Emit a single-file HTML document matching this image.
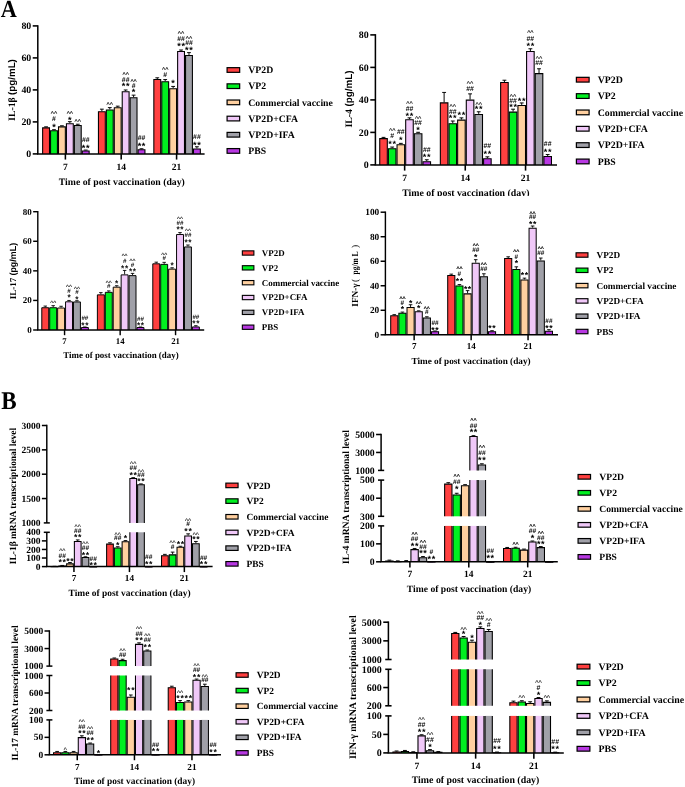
<!DOCTYPE html><html><head><meta charset="utf-8"><title>Figure</title>
<style>html,body{margin:0;padding:0;background:#fff}svg{display:block;text-rendering:geometricPrecision}text{fill:#000}</style></head><body>
<svg width="685" height="787" viewBox="0 0 685 787">
<rect width="685" height="787" fill="#fff"/>
<g>
<path d="M46.06 127.34V126.83M44.16 126.83H47.97" stroke="#000" stroke-width="0.97" fill="none"/>
<rect x="42.64" y="127.88" width="6.86" height="26.02" fill="#FF4040"/>
<path d="M42.64 153.9V127.88H49.49V153.9" stroke="#000" stroke-width="1.07" fill="none"/>
<path d="M54 130.22V129.71M52.09 129.71H55.9" stroke="#000" stroke-width="0.97" fill="none"/>
<rect x="50.57" y="130.76" width="6.86" height="23.14" fill="#00F020"/>
<path d="M50.57 153.9V130.76H57.42V153.9" stroke="#000" stroke-width="1.07" fill="none"/>
<text x="54" y="129.53" font-family="'Liberation Sans', sans-serif" font-size="9.07" font-weight="bold" text-anchor="middle" fill="#000">*</text>
<text x="54" y="121.32" font-family="'Liberation Sans', sans-serif" font-size="6.83" font-weight="bold" text-anchor="middle" fill="#000">#</text>
<text x="54" y="116.11" font-family="'Liberation Sans', sans-serif" font-size="6.83" text-anchor="middle" fill="#000" stroke="#000" stroke-width="0.1">^^</text>
<path d="M61.92 126.3V125.79M60.02 125.79H63.83" stroke="#000" stroke-width="0.97" fill="none"/>
<rect x="58.5" y="126.84" width="6.86" height="27.06" fill="#FFD0A0"/>
<path d="M58.5 153.9V126.84H65.35V153.9" stroke="#000" stroke-width="1.07" fill="none"/>
<path d="M69.86 123.18V121.67M67.95 121.67H71.76" stroke="#000" stroke-width="0.97" fill="none"/>
<rect x="66.43" y="123.72" width="6.86" height="30.18" fill="#F0C8F8"/>
<path d="M66.43 153.9V123.72H73.28V153.9" stroke="#000" stroke-width="1.07" fill="none"/>
<text x="69.86" y="122.53" font-family="'Liberation Sans', sans-serif" font-size="9.07" font-weight="bold" text-anchor="middle" fill="#000">*</text>
<text x="69.86" y="116.31" font-family="'Liberation Sans', sans-serif" font-size="6.83" text-anchor="middle" fill="#000" stroke="#000" stroke-width="0.1">^^</text>
<path d="M77.78 124.94V124.23M75.88 124.23H79.69" stroke="#000" stroke-width="0.97" fill="none"/>
<rect x="74.36" y="125.48" width="6.86" height="28.42" fill="#A0A0A8"/>
<path d="M74.36 153.9V125.48H81.21V153.9" stroke="#000" stroke-width="1.07" fill="none"/>
<text x="77.78" y="123.81" font-family="'Liberation Sans', sans-serif" font-size="6.83" text-anchor="middle" fill="#000" stroke="#000" stroke-width="0.1">^^</text>
<path d="M85.72 150.38V150.07M83.81 150.07H87.62" stroke="#000" stroke-width="0.97" fill="none"/>
<rect x="82.29" y="150.92" width="6.86" height="2.98" fill="#B838E2"/>
<path d="M82.29 153.9V150.92H89.14V153.9" stroke="#000" stroke-width="1.07" fill="none"/>
<text x="85.72" y="151.13" font-family="'Liberation Sans', sans-serif" font-size="9.07" font-weight="bold" text-anchor="middle" fill="#000" letter-spacing="0.68" dx="0.34">**</text>
<text x="85.72" y="142.02" font-family="'Liberation Sans', sans-serif" font-size="6.83" font-weight="bold" text-anchor="middle" fill="#000">##</text>
<path d="M101.87 111.18V109.17M99.96 109.17H103.77" stroke="#000" stroke-width="0.97" fill="none"/>
<rect x="98.44" y="111.72" width="6.86" height="42.18" fill="#FF4040"/>
<path d="M98.44 153.9V111.72H105.29V153.9" stroke="#000" stroke-width="1.07" fill="none"/>
<path d="M109.8 109.42V107.61M107.89 107.61H111.7" stroke="#000" stroke-width="0.97" fill="none"/>
<rect x="106.37" y="109.96" width="6.86" height="43.94" fill="#00F020"/>
<path d="M106.37 153.9V109.96H113.22V153.9" stroke="#000" stroke-width="1.07" fill="none"/>
<text x="109.8" y="106.51" font-family="'Liberation Sans', sans-serif" font-size="6.83" text-anchor="middle" fill="#000" stroke="#000" stroke-width="0.1">^^</text>
<path d="M117.73 107.18V106.17M115.82 106.17H119.63" stroke="#000" stroke-width="0.97" fill="none"/>
<rect x="114.3" y="107.72" width="6.86" height="46.18" fill="#FFD0A0"/>
<path d="M114.3 153.9V107.72H121.15V153.9" stroke="#000" stroke-width="1.07" fill="none"/>
<path d="M125.66 91.18V89.97M123.75 89.97H127.56" stroke="#000" stroke-width="0.97" fill="none"/>
<rect x="122.23" y="91.72" width="6.86" height="62.18" fill="#F0C8F8"/>
<path d="M122.23 153.9V91.72H129.08V153.9" stroke="#000" stroke-width="1.07" fill="none"/>
<text x="125.66" y="89.43" font-family="'Liberation Sans', sans-serif" font-size="9.07" font-weight="bold" text-anchor="middle" fill="#000" letter-spacing="0.68" dx="0.34">**</text>
<text x="125.66" y="82.02" font-family="'Liberation Sans', sans-serif" font-size="6.83" font-weight="bold" text-anchor="middle" fill="#000">##</text>
<text x="125.66" y="77.41" font-family="'Liberation Sans', sans-serif" font-size="6.83" text-anchor="middle" fill="#000" stroke="#000" stroke-width="0.1">^^</text>
<path d="M133.59 97.26V95.15M131.68 95.15H135.49" stroke="#000" stroke-width="0.97" fill="none"/>
<rect x="130.16" y="97.8" width="6.86" height="56.1" fill="#A0A0A8"/>
<path d="M130.16 153.9V97.8H137.01V153.9" stroke="#000" stroke-width="1.07" fill="none"/>
<text x="133.59" y="95.13" font-family="'Liberation Sans', sans-serif" font-size="9.07" font-weight="bold" text-anchor="middle" fill="#000">*</text>
<text x="133.59" y="87.72" font-family="'Liberation Sans', sans-serif" font-size="6.83" font-weight="bold" text-anchor="middle" fill="#000">#</text>
<text x="133.59" y="83.91" font-family="'Liberation Sans', sans-serif" font-size="6.83" text-anchor="middle" fill="#000" stroke="#000" stroke-width="0.1">^^</text>
<path d="M141.52 149.26V148.75M139.61 148.75H143.42" stroke="#000" stroke-width="0.97" fill="none"/>
<rect x="138.09" y="149.8" width="6.86" height="4.1" fill="#B838E2"/>
<path d="M138.09 153.9V149.8H144.94V153.9" stroke="#000" stroke-width="1.07" fill="none"/>
<text x="141.52" y="148.83" font-family="'Liberation Sans', sans-serif" font-size="9.07" font-weight="bold" text-anchor="middle" fill="#000" letter-spacing="0.68" dx="0.34">**</text>
<text x="141.52" y="140.02" font-family="'Liberation Sans', sans-serif" font-size="6.83" font-weight="bold" text-anchor="middle" fill="#000">##</text>
<path d="M157.27 79.02V77.81M155.36 77.81H159.17" stroke="#000" stroke-width="0.97" fill="none"/>
<rect x="153.84" y="79.56" width="6.86" height="74.34" fill="#FF4040"/>
<path d="M153.84 153.9V79.56H160.69V153.9" stroke="#000" stroke-width="1.07" fill="none"/>
<path d="M165.2 81.26V79.55M163.29 79.55H167.1" stroke="#000" stroke-width="0.97" fill="none"/>
<rect x="161.77" y="81.8" width="6.86" height="72.1" fill="#00F020"/>
<path d="M161.77 153.9V81.8H168.62V153.9" stroke="#000" stroke-width="1.07" fill="none"/>
<text x="165.2" y="77.02" font-family="'Liberation Sans', sans-serif" font-size="6.83" font-weight="bold" text-anchor="middle" fill="#000">#</text>
<text x="165.2" y="72.11" font-family="'Liberation Sans', sans-serif" font-size="6.83" text-anchor="middle" fill="#000" stroke="#000" stroke-width="0.1">^^</text>
<path d="M173.13 88.14V86.43M171.22 86.43H175.03" stroke="#000" stroke-width="0.97" fill="none"/>
<rect x="169.7" y="88.68" width="6.86" height="65.22" fill="#FFD0A0"/>
<path d="M169.7 153.9V88.68H176.55V153.9" stroke="#000" stroke-width="1.07" fill="none"/>
<text x="173.13" y="86.13" font-family="'Liberation Sans', sans-serif" font-size="9.07" font-weight="bold" text-anchor="middle" fill="#000">*</text>
<path d="M181.06 51.02V50.01M179.15 50.01H182.96" stroke="#000" stroke-width="0.97" fill="none"/>
<rect x="177.63" y="51.56" width="6.86" height="102.34" fill="#F0C8F8"/>
<path d="M177.63 153.9V51.56H184.48V153.9" stroke="#000" stroke-width="1.07" fill="none"/>
<text x="181.06" y="48.73" font-family="'Liberation Sans', sans-serif" font-size="9.07" font-weight="bold" text-anchor="middle" fill="#000" letter-spacing="0.68" dx="0.34">**</text>
<text x="181.06" y="40.72" font-family="'Liberation Sans', sans-serif" font-size="6.83" font-weight="bold" text-anchor="middle" fill="#000">##</text>
<text x="181.06" y="35.61" font-family="'Liberation Sans', sans-serif" font-size="6.83" text-anchor="middle" fill="#000" stroke="#000" stroke-width="0.1">^^</text>
<path d="M188.99 55.02V52.61M187.08 52.61H190.89" stroke="#000" stroke-width="0.97" fill="none"/>
<rect x="185.56" y="55.56" width="6.86" height="98.34" fill="#A0A0A8"/>
<path d="M185.56 153.9V55.56H192.41V153.9" stroke="#000" stroke-width="1.07" fill="none"/>
<text x="188.99" y="52.73" font-family="'Liberation Sans', sans-serif" font-size="9.07" font-weight="bold" text-anchor="middle" fill="#000" letter-spacing="0.68" dx="0.34">**</text>
<text x="188.99" y="44.52" font-family="'Liberation Sans', sans-serif" font-size="6.83" font-weight="bold" text-anchor="middle" fill="#000">##</text>
<text x="188.99" y="40.71" font-family="'Liberation Sans', sans-serif" font-size="6.83" text-anchor="middle" fill="#000" stroke="#000" stroke-width="0.1">^^</text>
<path d="M196.92 148.46V146.75M195.01 146.75H198.82" stroke="#000" stroke-width="0.97" fill="none"/>
<rect x="193.49" y="149" width="6.86" height="4.9" fill="#B838E2"/>
<path d="M193.49 153.9V149H200.34V153.9" stroke="#000" stroke-width="1.07" fill="none"/>
<text x="196.92" y="147.53" font-family="'Liberation Sans', sans-serif" font-size="9.07" font-weight="bold" text-anchor="middle" fill="#000" letter-spacing="0.68" dx="0.34">**</text>
<text x="196.92" y="139.12" font-family="'Liberation Sans', sans-serif" font-size="6.83" font-weight="bold" text-anchor="middle" fill="#000">##</text>
<path d="M37.8 25.14V153.9" stroke="#000" stroke-width="1.51"/>
<path d="M32.73 153.9H37.8" stroke="#000" stroke-width="1.56"/>
<text x="31.27" y="157.15" font-family="'Liberation Serif', serif" font-weight="bold" font-size="9.85" text-anchor="end">0</text>
<path d="M32.73 121.9H37.8" stroke="#000" stroke-width="1.56"/>
<text x="31.27" y="125.15" font-family="'Liberation Serif', serif" font-weight="bold" font-size="9.85" text-anchor="end">20</text>
<path d="M32.73 89.9H37.8" stroke="#000" stroke-width="1.56"/>
<text x="31.27" y="93.15" font-family="'Liberation Serif', serif" font-weight="bold" font-size="9.85" text-anchor="end">40</text>
<path d="M32.73 57.9H37.8" stroke="#000" stroke-width="1.56"/>
<text x="31.27" y="61.15" font-family="'Liberation Serif', serif" font-weight="bold" font-size="9.85" text-anchor="end">60</text>
<path d="M32.73 25.9H37.8" stroke="#000" stroke-width="1.56"/>
<text x="31.27" y="29.15" font-family="'Liberation Serif', serif" font-weight="bold" font-size="9.85" text-anchor="end">80</text>
<path d="M37.04 153.9H204.6" stroke="#000" stroke-width="1.51"/>
<path d="M65.39 153.9V159.56" stroke="#000" stroke-width="1.56"/>
<text x="65.39" y="169.5" font-family="'Liberation Serif', serif" font-weight="bold" font-size="9.55" text-anchor="middle">7</text>
<path d="M121.19 153.9V159.56" stroke="#000" stroke-width="1.56"/>
<text x="121.19" y="169.5" font-family="'Liberation Serif', serif" font-weight="bold" font-size="9.55" text-anchor="middle">14</text>
<path d="M176.59 153.9V159.56" stroke="#000" stroke-width="1.56"/>
<text x="176.59" y="169.5" font-family="'Liberation Serif', serif" font-weight="bold" font-size="9.55" text-anchor="middle">21</text>
<text x="121.8" y="185.2" font-family="'Liberation Serif', serif" font-weight="bold" font-size="9.75" text-anchor="middle">Time of post vaccination (day)</text>
<text transform="translate(14.6 90) rotate(-90)" font-family="'Liberation Serif', serif" font-weight="bold" font-size="9.75" text-anchor="middle">IL-1β <tspan font-family="Liberation Sans, sans-serif">(pg/mL)</tspan></text>
<rect x="227.09" y="67.66" width="12.58" height="4.68" fill="#FF4040" stroke="#000" stroke-width="1.22"/>
<text x="248.3" y="73.22" font-family="'Liberation Serif', serif" font-weight="bold" font-size="9.75">VP2D</text>
<rect x="227.09" y="83.84" width="12.58" height="4.68" fill="#00F020" stroke="#000" stroke-width="1.22"/>
<text x="248.3" y="89.4" font-family="'Liberation Serif', serif" font-weight="bold" font-size="9.75">VP2</text>
<rect x="227.09" y="100.03" width="12.58" height="4.68" fill="#FFD0A0" stroke="#000" stroke-width="1.22"/>
<text x="248.3" y="105.59" font-family="'Liberation Serif', serif" font-weight="bold" font-size="9.75">Commercial vaccine</text>
<rect x="227.09" y="116.22" width="12.58" height="4.68" fill="#F0C8F8" stroke="#000" stroke-width="1.22"/>
<text x="248.3" y="121.77" font-family="'Liberation Serif', serif" font-weight="bold" font-size="9.75">VP2D+CFA</text>
<rect x="227.09" y="132.4" width="12.58" height="4.68" fill="#A0A0A8" stroke="#000" stroke-width="1.22"/>
<text x="248.3" y="137.96" font-family="'Liberation Serif', serif" font-weight="bold" font-size="9.75">VP2D+IFA</text>
<rect x="227.09" y="148.59" width="12.58" height="4.68" fill="#B838E2" stroke="#000" stroke-width="1.22"/>
<text x="248.3" y="154.14" font-family="'Liberation Serif', serif" font-weight="bold" font-size="9.75">PBS</text>
</g>
<clipPath id="c2"><rect x="0" y="0" width="685" height="195.9"/></clipPath>
<g>
<path d="M383.52 138.09V137.38M381.6 137.38H385.45" stroke="#000" stroke-width="0.98" fill="none"/>
<rect x="379.74" y="138.63" width="7.57" height="26.27" fill="#FF4040"/>
<path d="M379.74 164.9V138.63H387.31V164.9" stroke="#000" stroke-width="1.08" fill="none"/>
<path d="M392.17 148.16V147.06M390.25 147.06H394.1" stroke="#000" stroke-width="0.98" fill="none"/>
<rect x="388.39" y="148.7" width="7.57" height="16.2" fill="#00F020"/>
<path d="M388.39 164.9V148.7H395.96V164.9" stroke="#000" stroke-width="1.08" fill="none"/>
<text x="392.17" y="146.68" font-family="'Liberation Sans', sans-serif" font-size="9.16" font-weight="bold" text-anchor="middle" fill="#000" letter-spacing="0.69" dx="0.34">**</text>
<text x="392.17" y="137.84" font-family="'Liberation Sans', sans-serif" font-size="6.89" font-weight="bold" text-anchor="middle" fill="#000">#</text>
<text x="392.17" y="133.35" font-family="'Liberation Sans', sans-serif" font-size="6.89" text-anchor="middle" fill="#000" stroke="#000" stroke-width="0.1">^^</text>
<path d="M400.82 144.26V143.36M398.9 143.36H402.75" stroke="#000" stroke-width="0.98" fill="none"/>
<rect x="397.04" y="144.8" width="7.57" height="20.1" fill="#FFD0A0"/>
<path d="M397.04 164.9V144.8H404.61V164.9" stroke="#000" stroke-width="1.08" fill="none"/>
<text x="400.82" y="143.08" font-family="'Liberation Sans', sans-serif" font-size="9.16" font-weight="bold" text-anchor="middle" fill="#000">*</text>
<text x="400.82" y="134.34" font-family="'Liberation Sans', sans-serif" font-size="6.89" font-weight="bold" text-anchor="middle" fill="#000">##</text>
<path d="M409.47 119.24V117.83M407.55 117.83H411.4" stroke="#000" stroke-width="0.98" fill="none"/>
<rect x="405.69" y="119.78" width="7.57" height="45.12" fill="#F0C8F8"/>
<path d="M405.69 164.9V119.78H413.26V164.9" stroke="#000" stroke-width="1.08" fill="none"/>
<text x="409.47" y="118.88" font-family="'Liberation Sans', sans-serif" font-size="9.16" font-weight="bold" text-anchor="middle" fill="#000" letter-spacing="0.69" dx="0.34">**</text>
<text x="409.47" y="110.54" font-family="'Liberation Sans', sans-serif" font-size="6.89" font-weight="bold" text-anchor="middle" fill="#000">##</text>
<text x="409.47" y="106.15" font-family="'Liberation Sans', sans-serif" font-size="6.89" text-anchor="middle" fill="#000" stroke="#000" stroke-width="0.1">^^</text>
<path d="M418.12 133.21V132.31M416.2 132.31H420.05" stroke="#000" stroke-width="0.98" fill="none"/>
<rect x="414.34" y="133.75" width="7.57" height="31.15" fill="#A0A0A8"/>
<path d="M414.34 164.9V133.75H421.91V164.9" stroke="#000" stroke-width="1.08" fill="none"/>
<text x="418.12" y="132.68" font-family="'Liberation Sans', sans-serif" font-size="9.16" font-weight="bold" text-anchor="middle" fill="#000">*</text>
<text x="418.12" y="125.24" font-family="'Liberation Sans', sans-serif" font-size="6.89" font-weight="bold" text-anchor="middle" fill="#000">##</text>
<text x="418.12" y="120.75" font-family="'Liberation Sans', sans-serif" font-size="6.89" text-anchor="middle" fill="#000" stroke="#000" stroke-width="0.1">^^</text>
<path d="M426.77 161.16V159.75M424.85 159.75H428.7" stroke="#000" stroke-width="0.98" fill="none"/>
<rect x="422.99" y="161.7" width="7.57" height="3.2" fill="#B838E2"/>
<path d="M422.99 164.9V161.7H430.56V164.9" stroke="#000" stroke-width="1.08" fill="none"/>
<text x="426.77" y="159.68" font-family="'Liberation Sans', sans-serif" font-size="9.16" font-weight="bold" text-anchor="middle" fill="#000" letter-spacing="0.69" dx="0.34">**</text>
<text x="426.77" y="152.44" font-family="'Liberation Sans', sans-serif" font-size="6.89" font-weight="bold" text-anchor="middle" fill="#000">##</text>
<path d="M444.12 102.34V92.43M442.2 92.43H446.05" stroke="#000" stroke-width="0.98" fill="none"/>
<rect x="440.34" y="102.88" width="7.57" height="62.02" fill="#FF4040"/>
<path d="M440.34 164.9V102.88H447.91V164.9" stroke="#000" stroke-width="1.08" fill="none"/>
<path d="M452.77 123.14V121.03M450.85 121.03H454.7" stroke="#000" stroke-width="0.98" fill="none"/>
<rect x="448.99" y="123.68" width="7.57" height="41.22" fill="#00F020"/>
<path d="M448.99 164.9V123.68H456.56V164.9" stroke="#000" stroke-width="1.08" fill="none"/>
<text x="452.77" y="121.28" font-family="'Liberation Sans', sans-serif" font-size="9.16" font-weight="bold" text-anchor="middle" fill="#000" letter-spacing="0.69" dx="0.34">**</text>
<text x="452.77" y="114.14" font-family="'Liberation Sans', sans-serif" font-size="6.89" font-weight="bold" text-anchor="middle" fill="#000">##</text>
<text x="452.77" y="108.75" font-family="'Liberation Sans', sans-serif" font-size="6.89" text-anchor="middle" fill="#000" stroke="#000" stroke-width="0.1">^^</text>
<path d="M461.43 119.56V117.86M459.5 117.86H463.35" stroke="#000" stroke-width="0.98" fill="none"/>
<rect x="457.64" y="120.1" width="7.57" height="44.8" fill="#FFD0A0"/>
<path d="M457.64 164.9V120.1H465.21V164.9" stroke="#000" stroke-width="1.08" fill="none"/>
<text x="461.43" y="118.38" font-family="'Liberation Sans', sans-serif" font-size="9.16" font-weight="bold" text-anchor="middle" fill="#000" letter-spacing="0.69" dx="0.34">**</text>
<path d="M470.07 99.58V93.87M468.15 93.87H472" stroke="#000" stroke-width="0.98" fill="none"/>
<rect x="466.29" y="100.12" width="7.57" height="64.78" fill="#F0C8F8"/>
<path d="M466.29 164.9V100.12H473.86V164.9" stroke="#000" stroke-width="1.08" fill="none"/>
<text x="470.07" y="91.14" font-family="'Liberation Sans', sans-serif" font-size="6.89" font-weight="bold" text-anchor="middle" fill="#000">##</text>
<text x="470.07" y="86.15" font-family="'Liberation Sans', sans-serif" font-size="6.89" text-anchor="middle" fill="#000" stroke="#000" stroke-width="0.1">^^</text>
<path d="M478.73 113.88V111.77M476.8 111.77H480.65" stroke="#000" stroke-width="0.98" fill="none"/>
<rect x="474.94" y="114.42" width="7.57" height="50.48" fill="#A0A0A8"/>
<path d="M474.94 164.9V114.42H482.51V164.9" stroke="#000" stroke-width="1.08" fill="none"/>
<text x="478.73" y="112.48" font-family="'Liberation Sans', sans-serif" font-size="9.16" font-weight="bold" text-anchor="middle" fill="#000" letter-spacing="0.69" dx="0.34">**</text>
<text x="478.73" y="106.55" font-family="'Liberation Sans', sans-serif" font-size="6.89" text-anchor="middle" fill="#000" stroke="#000" stroke-width="0.1">^^</text>
<path d="M487.38 158.24V156.83M485.45 156.83H489.3" stroke="#000" stroke-width="0.98" fill="none"/>
<rect x="483.59" y="158.78" width="7.57" height="6.12" fill="#B838E2"/>
<path d="M483.59 164.9V158.78H491.16V164.9" stroke="#000" stroke-width="1.08" fill="none"/>
<text x="487.38" y="156.88" font-family="'Liberation Sans', sans-serif" font-size="9.16" font-weight="bold" text-anchor="middle" fill="#000" letter-spacing="0.69" dx="0.34">**</text>
<text x="487.38" y="148.24" font-family="'Liberation Sans', sans-serif" font-size="6.89" font-weight="bold" text-anchor="middle" fill="#000">##</text>
<path d="M504.43 82.03V80.22M502.5 80.22H506.35" stroke="#000" stroke-width="0.98" fill="none"/>
<rect x="500.64" y="82.57" width="7.57" height="82.33" fill="#FF4040"/>
<path d="M500.64 164.9V82.57H508.21V164.9" stroke="#000" stroke-width="1.08" fill="none"/>
<path d="M513.08 111.6V109.19M511.15 109.19H515" stroke="#000" stroke-width="0.98" fill="none"/>
<rect x="509.29" y="112.14" width="7.57" height="52.76" fill="#00F020"/>
<path d="M509.29 164.9V112.14H516.86V164.9" stroke="#000" stroke-width="1.08" fill="none"/>
<text x="513.08" y="110.48" font-family="'Liberation Sans', sans-serif" font-size="9.16" font-weight="bold" text-anchor="middle" fill="#000" letter-spacing="0.69" dx="0.34">**</text>
<text x="513.08" y="102.84" font-family="'Liberation Sans', sans-serif" font-size="6.89" font-weight="bold" text-anchor="middle" fill="#000">##</text>
<text x="513.08" y="98.85" font-family="'Liberation Sans', sans-serif" font-size="6.89" text-anchor="middle" fill="#000" stroke="#000" stroke-width="0.1">^^</text>
<path d="M521.73 104.94V102.93M519.8 102.93H523.65" stroke="#000" stroke-width="0.98" fill="none"/>
<rect x="517.94" y="105.48" width="7.57" height="59.42" fill="#FFD0A0"/>
<path d="M517.94 164.9V105.48H525.51V164.9" stroke="#000" stroke-width="1.08" fill="none"/>
<text x="521.73" y="103.78" font-family="'Liberation Sans', sans-serif" font-size="9.16" font-weight="bold" text-anchor="middle" fill="#000" letter-spacing="0.69" dx="0.34">**</text>
<path d="M530.38 50.99V48.78M528.45 48.78H532.3" stroke="#000" stroke-width="0.98" fill="none"/>
<rect x="526.59" y="51.53" width="7.57" height="113.37" fill="#F0C8F8"/>
<path d="M526.59 164.9V51.53H534.16V164.9" stroke="#000" stroke-width="1.08" fill="none"/>
<text x="530.38" y="49.08" font-family="'Liberation Sans', sans-serif" font-size="9.16" font-weight="bold" text-anchor="middle" fill="#000" letter-spacing="0.69" dx="0.34">**</text>
<text x="530.38" y="41.14" font-family="'Liberation Sans', sans-serif" font-size="6.89" font-weight="bold" text-anchor="middle" fill="#000">##</text>
<text x="530.38" y="35.35" font-family="'Liberation Sans', sans-serif" font-size="6.89" text-anchor="middle" fill="#000" stroke="#000" stroke-width="0.1">^^</text>
<path d="M539.03 73.09V68.78M537.1 68.78H540.95" stroke="#000" stroke-width="0.98" fill="none"/>
<rect x="535.24" y="73.63" width="7.57" height="91.27" fill="#A0A0A8"/>
<path d="M535.24 164.9V73.63H542.81V164.9" stroke="#000" stroke-width="1.08" fill="none"/>
<text x="539.03" y="65.34" font-family="'Liberation Sans', sans-serif" font-size="6.89" font-weight="bold" text-anchor="middle" fill="#000">##</text>
<text x="539.03" y="61.25" font-family="'Liberation Sans', sans-serif" font-size="6.89" text-anchor="middle" fill="#000" stroke="#000" stroke-width="0.1">^^</text>
<path d="M547.68 155.96V154.56M545.75 154.56H549.6" stroke="#000" stroke-width="0.98" fill="none"/>
<rect x="543.89" y="156.5" width="7.57" height="8.4" fill="#B838E2"/>
<path d="M543.89 164.9V156.5H551.46V164.9" stroke="#000" stroke-width="1.08" fill="none"/>
<text x="547.68" y="154.68" font-family="'Liberation Sans', sans-serif" font-size="9.16" font-weight="bold" text-anchor="middle" fill="#000" letter-spacing="0.69" dx="0.34">**</text>
<text x="547.68" y="146.34" font-family="'Liberation Sans', sans-serif" font-size="6.89" font-weight="bold" text-anchor="middle" fill="#000">##</text>
<path d="M375.4 34.14V164.9" stroke="#000" stroke-width="1.53"/>
<path d="M370.28 164.9H375.4" stroke="#000" stroke-width="1.58"/>
<text x="368.8" y="168.18" font-family="'Liberation Serif', serif" font-weight="bold" font-size="9.95" text-anchor="end">0</text>
<path d="M370.28 132.4H375.4" stroke="#000" stroke-width="1.58"/>
<text x="368.8" y="135.68" font-family="'Liberation Serif', serif" font-weight="bold" font-size="9.95" text-anchor="end">20</text>
<path d="M370.28 99.9H375.4" stroke="#000" stroke-width="1.58"/>
<text x="368.8" y="103.18" font-family="'Liberation Serif', serif" font-weight="bold" font-size="9.95" text-anchor="end">40</text>
<path d="M370.28 67.4H375.4" stroke="#000" stroke-width="1.58"/>
<text x="368.8" y="70.68" font-family="'Liberation Serif', serif" font-weight="bold" font-size="9.95" text-anchor="end">60</text>
<path d="M370.28 34.9H375.4" stroke="#000" stroke-width="1.58"/>
<text x="368.8" y="38.18" font-family="'Liberation Serif', serif" font-weight="bold" font-size="9.95" text-anchor="end">80</text>
<path d="M374.64 164.9H557" stroke="#000" stroke-width="1.53"/>
<path d="M404.65 164.9V170.61" stroke="#000" stroke-width="1.58"/>
<text x="404.65" y="180.9" font-family="'Liberation Serif', serif" font-weight="bold" font-size="9.65" text-anchor="middle">7</text>
<path d="M465.25 164.9V170.61" stroke="#000" stroke-width="1.58"/>
<text x="465.25" y="180.9" font-family="'Liberation Serif', serif" font-weight="bold" font-size="9.65" text-anchor="middle">14</text>
<path d="M525.55 164.9V170.61" stroke="#000" stroke-width="1.58"/>
<text x="525.55" y="180.9" font-family="'Liberation Serif', serif" font-weight="bold" font-size="9.65" text-anchor="middle">21</text>
<text x="465.8" y="196" font-family="'Liberation Serif', serif" font-weight="bold" font-size="9.85" text-anchor="middle" clip-path="url(#c2)">Time of post vaccination (day)</text>
<text transform="translate(352.4 99) rotate(-90)" font-family="'Liberation Serif', serif" font-weight="bold" font-size="9.85" text-anchor="middle">IL-4 <tspan font-family="Liberation Sans, sans-serif">(pg/mL)</tspan></text>
<rect x="576.39" y="77.34" width="12.71" height="4.73" fill="#FF4040" stroke="#000" stroke-width="1.23"/>
<text x="597.7" y="82.95" font-family="'Liberation Serif', serif" font-weight="bold" font-size="9.85">VP2D</text>
<rect x="576.39" y="93.69" width="12.71" height="4.73" fill="#00F020" stroke="#000" stroke-width="1.23"/>
<text x="597.7" y="99.3" font-family="'Liberation Serif', serif" font-weight="bold" font-size="9.85">VP2</text>
<rect x="576.39" y="110.04" width="12.71" height="4.73" fill="#FFD0A0" stroke="#000" stroke-width="1.23"/>
<text x="597.7" y="115.65" font-family="'Liberation Serif', serif" font-weight="bold" font-size="9.85">Commercial vaccine</text>
<rect x="576.39" y="126.39" width="12.71" height="4.73" fill="#F0C8F8" stroke="#000" stroke-width="1.23"/>
<text x="597.7" y="132" font-family="'Liberation Serif', serif" font-weight="bold" font-size="9.85">VP2D+CFA</text>
<rect x="576.39" y="142.74" width="12.71" height="4.73" fill="#A0A0A8" stroke="#000" stroke-width="1.23"/>
<text x="597.7" y="148.35" font-family="'Liberation Serif', serif" font-weight="bold" font-size="9.85">VP2D+IFA</text>
<rect x="576.39" y="159.09" width="12.71" height="4.73" fill="#B838E2" stroke="#000" stroke-width="1.23"/>
<text x="597.7" y="164.71" font-family="'Liberation Serif', serif" font-weight="bold" font-size="9.85">PBS</text>
</g>
<g>
<path d="M45.26 307.23V306.07M43.52 306.07H47" stroke="#000" stroke-width="0.89" fill="none"/>
<rect x="41.79" y="307.72" width="6.94" height="22.28" fill="#FF4040"/>
<path d="M41.79 330V307.72H48.73V330" stroke="#000" stroke-width="0.98" fill="none"/>
<path d="M53.18 307.23V305.67M51.44 305.67H54.92" stroke="#000" stroke-width="0.89" fill="none"/>
<rect x="49.71" y="307.72" width="6.94" height="22.28" fill="#00F020"/>
<path d="M49.71 330V307.72H56.65V330" stroke="#000" stroke-width="0.98" fill="none"/>
<text x="53.18" y="305.13" font-family="'Liberation Sans', sans-serif" font-size="6.26" text-anchor="middle" fill="#000" stroke="#000" stroke-width="0.1">^^</text>
<path d="M61.1 307.52V306.27M59.36 306.27H62.84" stroke="#000" stroke-width="0.89" fill="none"/>
<rect x="57.63" y="308.01" width="6.94" height="21.99" fill="#FFD0A0"/>
<path d="M57.63 330V308.01H64.57V330" stroke="#000" stroke-width="0.98" fill="none"/>
<path d="M69.02 301.31V300.46M67.28 300.46H70.76" stroke="#000" stroke-width="0.89" fill="none"/>
<rect x="65.55" y="301.8" width="6.94" height="28.2" fill="#F0C8F8"/>
<path d="M65.55 330V301.8H72.49V330" stroke="#000" stroke-width="0.98" fill="none"/>
<text x="69.02" y="300.26" font-family="'Liberation Sans', sans-serif" font-size="8.31" font-weight="bold" text-anchor="middle" fill="#000">*</text>
<text x="69.02" y="293.13" font-family="'Liberation Sans', sans-serif" font-size="6.26" font-weight="bold" text-anchor="middle" fill="#000">#</text>
<text x="69.02" y="289.33" font-family="'Liberation Sans', sans-serif" font-size="6.26" text-anchor="middle" fill="#000" stroke="#000" stroke-width="0.1">^^</text>
<path d="M76.94 301.46V300.71M75.2 300.71H78.68" stroke="#000" stroke-width="0.89" fill="none"/>
<rect x="73.47" y="301.95" width="6.94" height="28.05" fill="#A0A0A8"/>
<path d="M73.47 330V301.95H80.41V330" stroke="#000" stroke-width="0.98" fill="none"/>
<text x="76.94" y="301.76" font-family="'Liberation Sans', sans-serif" font-size="8.31" font-weight="bold" text-anchor="middle" fill="#000">*</text>
<text x="76.94" y="294.43" font-family="'Liberation Sans', sans-serif" font-size="6.26" font-weight="bold" text-anchor="middle" fill="#000">#</text>
<text x="76.94" y="290.63" font-family="'Liberation Sans', sans-serif" font-size="6.26" text-anchor="middle" fill="#000" stroke="#000" stroke-width="0.1">^^</text>
<path d="M84.86 327.04V326.99M83.12 326.99H86.6" stroke="#000" stroke-width="0.89" fill="none"/>
<rect x="81.39" y="327.53" width="6.94" height="2.47" fill="#B838E2"/>
<path d="M81.39 330V327.53H88.33V330" stroke="#000" stroke-width="0.98" fill="none"/>
<text x="84.86" y="327.76" font-family="'Liberation Sans', sans-serif" font-size="8.31" font-weight="bold" text-anchor="middle" fill="#000" letter-spacing="0.63" dx="0.31">**</text>
<text x="84.86" y="320.13" font-family="'Liberation Sans', sans-serif" font-size="6.26" font-weight="bold" text-anchor="middle" fill="#000">##</text>
<path d="M100.86 294.36V292.61M99.12 292.61H102.6" stroke="#000" stroke-width="0.89" fill="none"/>
<rect x="97.39" y="294.85" width="6.94" height="35.15" fill="#FF4040"/>
<path d="M97.39 330V294.85H104.33V330" stroke="#000" stroke-width="0.98" fill="none"/>
<path d="M108.78 291.85V290.9M107.04 290.9H110.52" stroke="#000" stroke-width="0.89" fill="none"/>
<rect x="105.31" y="292.34" width="6.94" height="37.66" fill="#00F020"/>
<path d="M105.31 330V292.34H112.25V330" stroke="#000" stroke-width="0.98" fill="none"/>
<text x="108.78" y="287.93" font-family="'Liberation Sans', sans-serif" font-size="6.26" font-weight="bold" text-anchor="middle" fill="#000">#</text>
<text x="108.78" y="284.63" font-family="'Liberation Sans', sans-serif" font-size="6.26" text-anchor="middle" fill="#000" stroke="#000" stroke-width="0.1">^^</text>
<path d="M116.7 286.67V285.72M114.96 285.72H118.44" stroke="#000" stroke-width="0.89" fill="none"/>
<rect x="113.23" y="287.16" width="6.94" height="42.84" fill="#FFD0A0"/>
<path d="M113.23 330V287.16H120.17V330" stroke="#000" stroke-width="0.98" fill="none"/>
<text x="116.7" y="286.06" font-family="'Liberation Sans', sans-serif" font-size="8.31" font-weight="bold" text-anchor="middle" fill="#000">*</text>
<path d="M124.62 274.4V270.45M122.88 270.45H126.36" stroke="#000" stroke-width="0.89" fill="none"/>
<rect x="121.15" y="274.89" width="6.94" height="55.11" fill="#F0C8F8"/>
<path d="M121.15 330V274.89H128.09V330" stroke="#000" stroke-width="0.98" fill="none"/>
<text x="124.62" y="270.76" font-family="'Liberation Sans', sans-serif" font-size="8.31" font-weight="bold" text-anchor="middle" fill="#000" letter-spacing="0.63" dx="0.31">**</text>
<text x="124.62" y="263.03" font-family="'Liberation Sans', sans-serif" font-size="6.26" font-weight="bold" text-anchor="middle" fill="#000">#</text>
<text x="124.62" y="257.73" font-family="'Liberation Sans', sans-serif" font-size="6.26" text-anchor="middle" fill="#000" stroke="#000" stroke-width="0.1">^^</text>
<path d="M132.54 275.14V273.39M130.8 273.39H134.28" stroke="#000" stroke-width="0.89" fill="none"/>
<rect x="129.07" y="275.63" width="6.94" height="54.37" fill="#A0A0A8"/>
<path d="M129.07 330V275.63H136.01V330" stroke="#000" stroke-width="0.98" fill="none"/>
<text x="132.54" y="274.06" font-family="'Liberation Sans', sans-serif" font-size="8.31" font-weight="bold" text-anchor="middle" fill="#000" letter-spacing="0.63" dx="0.31">**</text>
<text x="132.54" y="266.53" font-family="'Liberation Sans', sans-serif" font-size="6.26" font-weight="bold" text-anchor="middle" fill="#000">#</text>
<text x="132.54" y="262.93" font-family="'Liberation Sans', sans-serif" font-size="6.26" text-anchor="middle" fill="#000" stroke="#000" stroke-width="0.1">^^</text>
<path d="M140.46 327.04V326.99M138.72 326.99H142.2" stroke="#000" stroke-width="0.89" fill="none"/>
<rect x="136.99" y="327.53" width="6.94" height="2.47" fill="#B838E2"/>
<path d="M136.99 330V327.53H143.93V330" stroke="#000" stroke-width="0.98" fill="none"/>
<text x="140.46" y="327.56" font-family="'Liberation Sans', sans-serif" font-size="8.31" font-weight="bold" text-anchor="middle" fill="#000" letter-spacing="0.63" dx="0.31">**</text>
<text x="140.46" y="320.73" font-family="'Liberation Sans', sans-serif" font-size="6.26" font-weight="bold" text-anchor="middle" fill="#000">##</text>
<path d="M156.26 263.31V262.16M154.52 262.16H158" stroke="#000" stroke-width="0.89" fill="none"/>
<rect x="152.79" y="263.8" width="6.94" height="66.2" fill="#FF4040"/>
<path d="M152.79 330V263.8H159.73V330" stroke="#000" stroke-width="0.98" fill="none"/>
<path d="M164.18 263.9V262.35M162.44 262.35H165.92" stroke="#000" stroke-width="0.89" fill="none"/>
<rect x="160.71" y="264.39" width="6.94" height="65.61" fill="#00F020"/>
<path d="M160.71 330V264.39H167.65V330" stroke="#000" stroke-width="0.98" fill="none"/>
<text x="164.18" y="260.13" font-family="'Liberation Sans', sans-serif" font-size="6.26" font-weight="bold" text-anchor="middle" fill="#000">#</text>
<text x="164.18" y="256.63" font-family="'Liberation Sans', sans-serif" font-size="6.26" text-anchor="middle" fill="#000" stroke="#000" stroke-width="0.1">^^</text>
<path d="M172.1 268.63V267.78M170.36 267.78H173.84" stroke="#000" stroke-width="0.89" fill="none"/>
<rect x="168.63" y="269.12" width="6.94" height="60.88" fill="#FFD0A0"/>
<path d="M168.63 330V269.12H175.57V330" stroke="#000" stroke-width="0.98" fill="none"/>
<text x="172.1" y="267.76" font-family="'Liberation Sans', sans-serif" font-size="8.31" font-weight="bold" text-anchor="middle" fill="#000">*</text>
<path d="M180.02 234.03V232.58M178.28 232.58H181.76" stroke="#000" stroke-width="0.89" fill="none"/>
<rect x="176.55" y="234.52" width="6.94" height="95.48" fill="#F0C8F8"/>
<path d="M176.55 330V234.52H183.49V330" stroke="#000" stroke-width="0.98" fill="none"/>
<text x="180.02" y="232.06" font-family="'Liberation Sans', sans-serif" font-size="8.31" font-weight="bold" text-anchor="middle" fill="#000" letter-spacing="0.63" dx="0.31">**</text>
<text x="180.02" y="225.23" font-family="'Liberation Sans', sans-serif" font-size="6.26" font-weight="bold" text-anchor="middle" fill="#000">##</text>
<text x="180.02" y="220.83" font-family="'Liberation Sans', sans-serif" font-size="6.26" text-anchor="middle" fill="#000" stroke="#000" stroke-width="0.1">^^</text>
<path d="M187.94 246.45V245M186.2 245H189.68" stroke="#000" stroke-width="0.89" fill="none"/>
<rect x="184.47" y="246.94" width="6.94" height="83.06" fill="#A0A0A8"/>
<path d="M184.47 330V246.94H191.41V330" stroke="#000" stroke-width="0.98" fill="none"/>
<text x="187.94" y="244.56" font-family="'Liberation Sans', sans-serif" font-size="8.31" font-weight="bold" text-anchor="middle" fill="#000" letter-spacing="0.63" dx="0.31">**</text>
<text x="187.94" y="237.43" font-family="'Liberation Sans', sans-serif" font-size="6.26" font-weight="bold" text-anchor="middle" fill="#000">##</text>
<text x="187.94" y="233.13" font-family="'Liberation Sans', sans-serif" font-size="6.26" text-anchor="middle" fill="#000" stroke="#000" stroke-width="0.1">^^</text>
<path d="M195.86 326.45V325.7M194.12 325.7H197.6" stroke="#000" stroke-width="0.89" fill="none"/>
<rect x="192.39" y="326.94" width="6.94" height="3.06" fill="#B838E2"/>
<path d="M192.39 330V326.94H199.33V330" stroke="#000" stroke-width="0.98" fill="none"/>
<text x="195.86" y="326.16" font-family="'Liberation Sans', sans-serif" font-size="8.31" font-weight="bold" text-anchor="middle" fill="#000" letter-spacing="0.63" dx="0.31">**</text>
<text x="195.86" y="318.53" font-family="'Liberation Sans', sans-serif" font-size="6.26" font-weight="bold" text-anchor="middle" fill="#000">##</text>
<path d="M37.8 211.01V330" stroke="#000" stroke-width="1.39"/>
<path d="M33.15 330H37.8" stroke="#000" stroke-width="1.43"/>
<text x="31.81" y="332.98" font-family="'Liberation Serif', serif" font-weight="bold" font-size="9.03" text-anchor="end">0</text>
<path d="M33.15 300.43H37.8" stroke="#000" stroke-width="1.43"/>
<text x="31.81" y="303.4" font-family="'Liberation Serif', serif" font-weight="bold" font-size="9.03" text-anchor="end">20</text>
<path d="M33.15 270.85H37.8" stroke="#000" stroke-width="1.43"/>
<text x="31.81" y="273.83" font-family="'Liberation Serif', serif" font-weight="bold" font-size="9.03" text-anchor="end">40</text>
<path d="M33.15 241.27H37.8" stroke="#000" stroke-width="1.43"/>
<text x="31.81" y="244.25" font-family="'Liberation Serif', serif" font-weight="bold" font-size="9.03" text-anchor="end">60</text>
<path d="M33.15 211.7H37.8" stroke="#000" stroke-width="1.43"/>
<text x="31.81" y="214.68" font-family="'Liberation Serif', serif" font-weight="bold" font-size="9.03" text-anchor="end">80</text>
<path d="M37.11 330H204.2" stroke="#000" stroke-width="1.39"/>
<path d="M64.56 330V335.19" stroke="#000" stroke-width="1.43"/>
<text x="64.56" y="344.3" font-family="'Liberation Serif', serif" font-weight="bold" font-size="8.76" text-anchor="middle">7</text>
<path d="M120.16 330V335.19" stroke="#000" stroke-width="1.43"/>
<text x="120.16" y="344.3" font-family="'Liberation Serif', serif" font-weight="bold" font-size="8.76" text-anchor="middle">14</text>
<path d="M175.56 330V335.19" stroke="#000" stroke-width="1.43"/>
<text x="175.56" y="344.3" font-family="'Liberation Serif', serif" font-weight="bold" font-size="8.76" text-anchor="middle">21</text>
<text x="121" y="358" font-family="'Liberation Serif', serif" font-weight="bold" font-size="8.94" text-anchor="middle">Time of post vaccination (day)</text>
<text transform="translate(15.6 271) rotate(-90)" font-family="'Liberation Serif', serif" font-weight="bold" font-size="8.94" text-anchor="middle">IL-17 <tspan font-family="Liberation Sans, sans-serif">(pg/mL)</tspan></text>
<rect x="242.35" y="250.85" width="11.53" height="4.29" fill="#FF4040" stroke="#000" stroke-width="1.12"/>
<text x="261.8" y="255.95" font-family="'Liberation Serif', serif" font-weight="bold" font-size="8.94">VP2D</text>
<rect x="242.35" y="265.69" width="11.53" height="4.29" fill="#00F020" stroke="#000" stroke-width="1.12"/>
<text x="261.8" y="270.79" font-family="'Liberation Serif', serif" font-weight="bold" font-size="8.94">VP2</text>
<rect x="242.35" y="280.54" width="11.53" height="4.29" fill="#FFD0A0" stroke="#000" stroke-width="1.12"/>
<text x="261.8" y="285.63" font-family="'Liberation Serif', serif" font-weight="bold" font-size="8.94">Commercial vaccine</text>
<rect x="242.35" y="295.38" width="11.53" height="4.29" fill="#F0C8F8" stroke="#000" stroke-width="1.12"/>
<text x="261.8" y="300.47" font-family="'Liberation Serif', serif" font-weight="bold" font-size="8.94">VP2D+CFA</text>
<rect x="242.35" y="310.22" width="11.53" height="4.29" fill="#A0A0A8" stroke="#000" stroke-width="1.12"/>
<text x="261.8" y="315.31" font-family="'Liberation Serif', serif" font-weight="bold" font-size="8.94">VP2D+IFA</text>
<rect x="242.35" y="325.06" width="11.53" height="4.29" fill="#B838E2" stroke="#000" stroke-width="1.12"/>
<text x="261.8" y="330.15" font-family="'Liberation Serif', serif" font-weight="bold" font-size="8.94">PBS</text>
</g>
<g>
<path d="M394.27 315.31V314.67M392.48 314.67H396.07" stroke="#000" stroke-width="0.92" fill="none"/>
<rect x="390.71" y="315.81" width="7.14" height="18.99" fill="#FF4040"/>
<path d="M390.71 334.8V315.81H397.84V334.8" stroke="#000" stroke-width="1.01" fill="none"/>
<path d="M402.42 312.73V312.09M400.63 312.09H404.22" stroke="#000" stroke-width="0.92" fill="none"/>
<rect x="398.86" y="313.24" width="7.14" height="21.56" fill="#00F020"/>
<path d="M398.86 334.8V313.24H405.99V334.8" stroke="#000" stroke-width="1.01" fill="none"/>
<text x="402.42" y="311.89" font-family="'Liberation Sans', sans-serif" font-size="8.57" font-weight="bold" text-anchor="middle" fill="#000">*</text>
<text x="402.42" y="304.79" font-family="'Liberation Sans', sans-serif" font-size="6.45" font-weight="bold" text-anchor="middle" fill="#000">#</text>
<text x="402.42" y="300.83" font-family="'Liberation Sans', sans-serif" font-size="6.45" text-anchor="middle" fill="#000" stroke="#000" stroke-width="0.1">^^</text>
<path d="M410.57 306.97V304.73M408.78 304.73H412.37" stroke="#000" stroke-width="0.92" fill="none"/>
<rect x="407.01" y="307.48" width="7.14" height="27.32" fill="#FFD0A0"/>
<path d="M407.01 334.8V307.48H414.14V334.8" stroke="#000" stroke-width="1.01" fill="none"/>
<text x="410.57" y="305.59" font-family="'Liberation Sans', sans-serif" font-size="8.57" font-weight="bold" text-anchor="middle" fill="#000">*</text>
<path d="M418.72 311.26V310.82M416.93 310.82H420.52" stroke="#000" stroke-width="0.92" fill="none"/>
<rect x="415.16" y="311.77" width="7.14" height="23.03" fill="#F0C8F8"/>
<path d="M415.16 334.8V311.77H422.29V334.8" stroke="#000" stroke-width="1.01" fill="none"/>
<text x="418.72" y="310.69" font-family="'Liberation Sans', sans-serif" font-size="8.57" font-weight="bold" text-anchor="middle" fill="#000">*</text>
<text x="418.72" y="305.83" font-family="'Liberation Sans', sans-serif" font-size="6.45" text-anchor="middle" fill="#000" stroke="#000" stroke-width="0.1">^^</text>
<path d="M426.88 317.51V316.77M425.08 316.77H428.67" stroke="#000" stroke-width="0.92" fill="none"/>
<rect x="423.31" y="318.02" width="7.14" height="16.78" fill="#A0A0A8"/>
<path d="M423.31 334.8V318.02H430.44V334.8" stroke="#000" stroke-width="1.01" fill="none"/>
<text x="426.88" y="314.29" font-family="'Liberation Sans', sans-serif" font-size="6.45" font-weight="bold" text-anchor="middle" fill="#000">#</text>
<text x="426.88" y="310.83" font-family="'Liberation Sans', sans-serif" font-size="6.45" text-anchor="middle" fill="#000" stroke="#000" stroke-width="0.1">^^</text>
<path d="M435.02 331.12V330.98M433.23 330.98H436.82" stroke="#000" stroke-width="0.92" fill="none"/>
<rect x="431.46" y="331.63" width="7.14" height="3.17" fill="#B838E2"/>
<path d="M431.46 334.8V331.63H438.59V334.8" stroke="#000" stroke-width="1.01" fill="none"/>
<text x="435.02" y="332.89" font-family="'Liberation Sans', sans-serif" font-size="8.57" font-weight="bold" text-anchor="middle" fill="#000" letter-spacing="0.65" dx="0.32">**</text>
<text x="435.02" y="325.49" font-family="'Liberation Sans', sans-serif" font-size="6.45" font-weight="bold" text-anchor="middle" fill="#000">##</text>
<path d="M451.27 274.97V274.13M449.48 274.13H453.07" stroke="#000" stroke-width="0.92" fill="none"/>
<rect x="447.71" y="275.48" width="7.14" height="59.32" fill="#FF4040"/>
<path d="M447.71 334.8V275.48H454.84V334.8" stroke="#000" stroke-width="1.01" fill="none"/>
<path d="M459.42 285.39V284.55M457.63 284.55H461.22" stroke="#000" stroke-width="0.92" fill="none"/>
<rect x="455.86" y="285.9" width="7.14" height="48.9" fill="#00F020"/>
<path d="M455.86 334.8V285.9H462.99V334.8" stroke="#000" stroke-width="1.01" fill="none"/>
<text x="459.42" y="284.29" font-family="'Liberation Sans', sans-serif" font-size="8.57" font-weight="bold" text-anchor="middle" fill="#000" letter-spacing="0.65" dx="0.32">**</text>
<text x="459.42" y="275.69" font-family="'Liberation Sans', sans-serif" font-size="6.45" font-weight="bold" text-anchor="middle" fill="#000">#</text>
<text x="459.42" y="270.73" font-family="'Liberation Sans', sans-serif" font-size="6.45" text-anchor="middle" fill="#000" stroke="#000" stroke-width="0.1">^^</text>
<path d="M467.57 293.36V290.62M465.78 290.62H469.37" stroke="#000" stroke-width="0.92" fill="none"/>
<rect x="464.01" y="293.87" width="7.14" height="40.93" fill="#FFD0A0"/>
<path d="M464.01 334.8V293.87H471.14V334.8" stroke="#000" stroke-width="1.01" fill="none"/>
<text x="467.57" y="292.49" font-family="'Liberation Sans', sans-serif" font-size="8.57" font-weight="bold" text-anchor="middle" fill="#000" letter-spacing="0.65" dx="0.32">**</text>
<path d="M475.72 262.71V259.67M473.93 259.67H477.52" stroke="#000" stroke-width="0.92" fill="none"/>
<rect x="472.16" y="263.22" width="7.14" height="71.58" fill="#F0C8F8"/>
<path d="M472.16 334.8V263.22H479.29V334.8" stroke="#000" stroke-width="1.01" fill="none"/>
<text x="475.72" y="259.89" font-family="'Liberation Sans', sans-serif" font-size="8.57" font-weight="bold" text-anchor="middle" fill="#000">*</text>
<text x="475.72" y="251.89" font-family="'Liberation Sans', sans-serif" font-size="6.45" font-weight="bold" text-anchor="middle" fill="#000">##</text>
<text x="475.72" y="248.13" font-family="'Liberation Sans', sans-serif" font-size="6.45" text-anchor="middle" fill="#000" stroke="#000" stroke-width="0.1">^^</text>
<path d="M483.88 276.32V273.78M482.08 273.78H485.67" stroke="#000" stroke-width="0.92" fill="none"/>
<rect x="480.31" y="276.83" width="7.14" height="57.97" fill="#A0A0A8"/>
<path d="M480.31 334.8V276.83H487.44V334.8" stroke="#000" stroke-width="1.01" fill="none"/>
<text x="483.88" y="270.69" font-family="'Liberation Sans', sans-serif" font-size="6.45" font-weight="bold" text-anchor="middle" fill="#000">##</text>
<text x="483.88" y="266.83" font-family="'Liberation Sans', sans-serif" font-size="6.45" text-anchor="middle" fill="#000" stroke="#000" stroke-width="0.1">^^</text>
<path d="M492.02 331.12V330.68M490.23 330.68H493.82" stroke="#000" stroke-width="0.92" fill="none"/>
<rect x="488.46" y="331.63" width="7.14" height="3.17" fill="#B838E2"/>
<path d="M488.46 334.8V331.63H495.59V334.8" stroke="#000" stroke-width="1.01" fill="none"/>
<text x="492.02" y="331.19" font-family="'Liberation Sans', sans-serif" font-size="8.57" font-weight="bold" text-anchor="middle" fill="#000" letter-spacing="0.65" dx="0.32">**</text>
<path d="M508.18 258.05V256.81M506.38 256.81H509.97" stroke="#000" stroke-width="0.92" fill="none"/>
<rect x="504.61" y="258.56" width="7.14" height="76.24" fill="#FF4040"/>
<path d="M504.61 334.8V258.56H511.74V334.8" stroke="#000" stroke-width="1.01" fill="none"/>
<path d="M516.33 268.96V266.82M514.53 266.82H518.12" stroke="#000" stroke-width="0.92" fill="none"/>
<rect x="512.76" y="269.47" width="7.14" height="65.33" fill="#00F020"/>
<path d="M512.76 334.8V269.47H519.89V334.8" stroke="#000" stroke-width="1.01" fill="none"/>
<text x="516.33" y="265.89" font-family="'Liberation Sans', sans-serif" font-size="8.57" font-weight="bold" text-anchor="middle" fill="#000">*</text>
<text x="516.33" y="258.59" font-family="'Liberation Sans', sans-serif" font-size="6.45" font-weight="bold" text-anchor="middle" fill="#000">#</text>
<text x="516.33" y="254.43" font-family="'Liberation Sans', sans-serif" font-size="6.45" text-anchor="middle" fill="#000" stroke="#000" stroke-width="0.1">^^</text>
<path d="M524.48 279.38V278.15M522.68 278.15H526.27" stroke="#000" stroke-width="0.92" fill="none"/>
<rect x="520.91" y="279.89" width="7.14" height="54.91" fill="#FFD0A0"/>
<path d="M520.91 334.8V279.89H528.04V334.8" stroke="#000" stroke-width="1.01" fill="none"/>
<text x="524.48" y="278.09" font-family="'Liberation Sans', sans-serif" font-size="8.57" font-weight="bold" text-anchor="middle" fill="#000" letter-spacing="0.65" dx="0.32">**</text>
<path d="M532.63 227.65V226.01M530.83 226.01H534.42" stroke="#000" stroke-width="0.92" fill="none"/>
<rect x="529.06" y="228.15" width="7.14" height="106.65" fill="#F0C8F8"/>
<path d="M529.06 334.8V228.15H536.19V334.8" stroke="#000" stroke-width="1.01" fill="none"/>
<text x="532.63" y="226.69" font-family="'Liberation Sans', sans-serif" font-size="8.57" font-weight="bold" text-anchor="middle" fill="#000" letter-spacing="0.65" dx="0.32">**</text>
<text x="532.63" y="219.39" font-family="'Liberation Sans', sans-serif" font-size="6.45" font-weight="bold" text-anchor="middle" fill="#000">##</text>
<text x="532.63" y="215.53" font-family="'Liberation Sans', sans-serif" font-size="6.45" text-anchor="middle" fill="#000" stroke="#000" stroke-width="0.1">^^</text>
<path d="M540.78 260.38V258.04M538.98 258.04H542.57" stroke="#000" stroke-width="0.92" fill="none"/>
<rect x="537.21" y="260.89" width="7.14" height="73.91" fill="#A0A0A8"/>
<path d="M537.21 334.8V260.89H544.34V334.8" stroke="#000" stroke-width="1.01" fill="none"/>
<text x="540.78" y="255.09" font-family="'Liberation Sans', sans-serif" font-size="6.45" font-weight="bold" text-anchor="middle" fill="#000">##</text>
<text x="540.78" y="250.93" font-family="'Liberation Sans', sans-serif" font-size="6.45" text-anchor="middle" fill="#000" stroke="#000" stroke-width="0.1">^^</text>
<path d="M548.93 330.63V329.69M547.13 329.69H550.72" stroke="#000" stroke-width="0.92" fill="none"/>
<rect x="545.36" y="331.14" width="7.14" height="3.66" fill="#B838E2"/>
<path d="M545.36 334.8V331.14H552.49V334.8" stroke="#000" stroke-width="1.01" fill="none"/>
<text x="548.93" y="331.19" font-family="'Liberation Sans', sans-serif" font-size="8.57" font-weight="bold" text-anchor="middle" fill="#000" letter-spacing="0.65" dx="0.32">**</text>
<text x="548.93" y="323.49" font-family="'Liberation Sans', sans-serif" font-size="6.45" font-weight="bold" text-anchor="middle" fill="#000">##</text>
<path d="M385.4 211.49V334.8" stroke="#000" stroke-width="1.43"/>
<path d="M380.61 334.8H385.4" stroke="#000" stroke-width="1.48"/>
<text x="379.22" y="337.87" font-family="'Liberation Serif', serif" font-weight="bold" font-size="9.31" text-anchor="end">0</text>
<path d="M380.61 310.28H385.4" stroke="#000" stroke-width="1.48"/>
<text x="379.22" y="313.35" font-family="'Liberation Serif', serif" font-weight="bold" font-size="9.31" text-anchor="end">20</text>
<path d="M380.61 285.76H385.4" stroke="#000" stroke-width="1.48"/>
<text x="379.22" y="288.83" font-family="'Liberation Serif', serif" font-weight="bold" font-size="9.31" text-anchor="end">40</text>
<path d="M380.61 261.24H385.4" stroke="#000" stroke-width="1.48"/>
<text x="379.22" y="264.31" font-family="'Liberation Serif', serif" font-weight="bold" font-size="9.31" text-anchor="end">60</text>
<path d="M380.61 236.72H385.4" stroke="#000" stroke-width="1.48"/>
<text x="379.22" y="239.79" font-family="'Liberation Serif', serif" font-weight="bold" font-size="9.31" text-anchor="end">80</text>
<path d="M380.61 212.2H385.4" stroke="#000" stroke-width="1.48"/>
<text x="379.22" y="215.27" font-family="'Liberation Serif', serif" font-weight="bold" font-size="9.31" text-anchor="end">100</text>
<path d="M384.69 334.8H558" stroke="#000" stroke-width="1.43"/>
<path d="M414.15 334.8V340.15" stroke="#000" stroke-width="1.48"/>
<text x="414.15" y="349.4" font-family="'Liberation Serif', serif" font-weight="bold" font-size="9.04" text-anchor="middle">7</text>
<path d="M471.15 334.8V340.15" stroke="#000" stroke-width="1.48"/>
<text x="471.15" y="349.4" font-family="'Liberation Serif', serif" font-weight="bold" font-size="9.04" text-anchor="middle">14</text>
<path d="M528.05 334.8V340.15" stroke="#000" stroke-width="1.48"/>
<text x="528.05" y="349.4" font-family="'Liberation Serif', serif" font-weight="bold" font-size="9.04" text-anchor="middle">21</text>
<text x="471" y="364.2" font-family="'Liberation Serif', serif" font-weight="bold" font-size="9.22" text-anchor="middle">Time of post vaccination (day)</text>
<text transform="translate(358.3 306.7) rotate(-90)" font-family="'Liberation Serif', serif" font-weight="bold" font-size="9.22" text-anchor="start"><tspan x="0">IFN-γ</tspan><tspan x="24.6" font-weight="normal">(</tspan><tspan x="32.3" textLength="16.2" lengthAdjust="spacingAndGlyphs">pg/m</tspan><tspan x="50.2" textLength="5.2" lengthAdjust="spacingAndGlyphs">L</tspan><tspan x="58.8" font-weight="normal">)</tspan></text>
<rect x="576.06" y="252.79" width="11.89" height="4.43" fill="#FF4040" stroke="#000" stroke-width="1.15"/>
<text x="596.5" y="258.04" font-family="'Liberation Serif', serif" font-weight="bold" font-size="9.22">VP2D</text>
<rect x="576.06" y="268.09" width="11.89" height="4.43" fill="#00F020" stroke="#000" stroke-width="1.15"/>
<text x="596.5" y="273.35" font-family="'Liberation Serif', serif" font-weight="bold" font-size="9.22">VP2</text>
<rect x="576.06" y="283.4" width="11.89" height="4.43" fill="#FFD0A0" stroke="#000" stroke-width="1.15"/>
<text x="596.5" y="288.65" font-family="'Liberation Serif', serif" font-weight="bold" font-size="9.22">Commercial vaccine</text>
<rect x="576.06" y="298.7" width="11.89" height="4.43" fill="#F0C8F8" stroke="#000" stroke-width="1.15"/>
<text x="596.5" y="303.96" font-family="'Liberation Serif', serif" font-weight="bold" font-size="9.22">VP2D+CFA</text>
<rect x="576.06" y="314.01" width="11.89" height="4.43" fill="#A0A0A8" stroke="#000" stroke-width="1.15"/>
<text x="596.5" y="319.26" font-family="'Liberation Serif', serif" font-weight="bold" font-size="9.22">VP2D+IFA</text>
<rect x="576.06" y="329.31" width="11.89" height="4.43" fill="#B838E2" stroke="#000" stroke-width="1.15"/>
<text x="596.5" y="334.57" font-family="'Liberation Serif', serif" font-weight="bold" font-size="9.22">PBS</text>
</g>
<g>
<path d="M54.48 566.17V566.34M52.63 566.34H56.32" stroke="#000" stroke-width="0.94" fill="none"/>
<rect x="51.12" y="566.69" width="6.71" height="0.2" fill="#FF4040"/>
<path d="M51.12 566.6V566.69H57.83V566.6" stroke="#000" stroke-width="1.04" fill="none"/>
<path d="M62.23 565.57V565.44M60.38 565.44H64.07" stroke="#000" stroke-width="0.94" fill="none"/>
<rect x="58.87" y="566.09" width="6.71" height="0.51" fill="#00F020"/>
<path d="M58.87 566.6V566.09H65.58V566.6" stroke="#000" stroke-width="1.04" fill="none"/>
<text x="62.23" y="565.39" font-family="'Liberation Sans', sans-serif" font-size="8.79" font-weight="bold" text-anchor="middle" fill="#000" letter-spacing="0.66" dx="0.33">**</text>
<text x="62.23" y="557.75" font-family="'Liberation Sans', sans-serif" font-size="6.61" font-weight="bold" text-anchor="middle" fill="#000">##</text>
<text x="62.23" y="553.31" font-family="'Liberation Sans', sans-serif" font-size="6.61" text-anchor="middle" fill="#000" stroke="#000" stroke-width="0.1">^^</text>
<path d="M69.97 563.34V562.51M68.13 562.51H71.82" stroke="#000" stroke-width="0.94" fill="none"/>
<rect x="66.62" y="563.86" width="6.71" height="2.74" fill="#FFD0A0"/>
<path d="M66.62 566.6V563.86H73.33V566.6" stroke="#000" stroke-width="1.04" fill="none"/>
<text x="69.97" y="563.89" font-family="'Liberation Sans', sans-serif" font-size="8.79" font-weight="bold" text-anchor="middle" fill="#000" letter-spacing="0.66" dx="0.33">**</text>
<path d="M77.72 541.05V539.92M75.88 539.92H79.57" stroke="#000" stroke-width="0.94" fill="none"/>
<rect x="74.37" y="541.57" width="6.71" height="25.03" fill="#F0C8F8"/>
<path d="M74.37 566.6V541.57H81.08V566.6" stroke="#000" stroke-width="1.04" fill="none"/>
<text x="77.72" y="540.39" font-family="'Liberation Sans', sans-serif" font-size="8.79" font-weight="bold" text-anchor="middle" fill="#000" letter-spacing="0.66" dx="0.33">**</text>
<text x="77.72" y="532.85" font-family="'Liberation Sans', sans-serif" font-size="6.61" font-weight="bold" text-anchor="middle" fill="#000">##</text>
<text x="77.72" y="528.81" font-family="'Liberation Sans', sans-serif" font-size="6.61" text-anchor="middle" fill="#000" stroke="#000" stroke-width="0.1">^^</text>
<path d="M85.47 557V556.77M83.63 556.77H87.32" stroke="#000" stroke-width="0.94" fill="none"/>
<rect x="82.12" y="557.52" width="6.71" height="9.08" fill="#A0A0A8"/>
<path d="M82.12 566.6V557.52H88.83V566.6" stroke="#000" stroke-width="1.04" fill="none"/>
<text x="85.47" y="557.79" font-family="'Liberation Sans', sans-serif" font-size="8.79" font-weight="bold" text-anchor="middle" fill="#000" letter-spacing="0.66" dx="0.33">**</text>
<text x="85.47" y="550.05" font-family="'Liberation Sans', sans-serif" font-size="6.61" font-weight="bold" text-anchor="middle" fill="#000">##</text>
<text x="85.47" y="545.91" font-family="'Liberation Sans', sans-serif" font-size="6.61" text-anchor="middle" fill="#000" stroke="#000" stroke-width="0.1">^^</text>
<path d="M93.22 566.34V566.52M91.38 566.52H95.07" stroke="#000" stroke-width="0.94" fill="none"/>
<rect x="89.87" y="566.86" width="6.71" height="0.2" fill="#B838E2"/>
<path d="M89.87 566.6V566.86H96.58V566.6" stroke="#000" stroke-width="1.04" fill="none"/>
<text x="93.22" y="567.69" font-family="'Liberation Sans', sans-serif" font-size="8.79" font-weight="bold" text-anchor="middle" fill="#000" letter-spacing="0.66" dx="0.33">**</text>
<text x="93.22" y="560.55" font-family="'Liberation Sans', sans-serif" font-size="6.61" font-weight="bold" text-anchor="middle" fill="#000">##</text>
<path d="M109.97 543.62V542.79M108.13 542.79H111.82" stroke="#000" stroke-width="0.94" fill="none"/>
<rect x="106.62" y="544.14" width="6.71" height="22.46" fill="#FF4040"/>
<path d="M106.62 566.6V544.14H113.33V566.6" stroke="#000" stroke-width="1.04" fill="none"/>
<path d="M117.72 547.56V546.74M115.88 546.74H119.57" stroke="#000" stroke-width="0.94" fill="none"/>
<rect x="114.37" y="548.08" width="6.71" height="18.52" fill="#00F020"/>
<path d="M114.37 566.6V548.08H121.08V566.6" stroke="#000" stroke-width="1.04" fill="none"/>
<text x="117.72" y="547.69" font-family="'Liberation Sans', sans-serif" font-size="8.79" font-weight="bold" text-anchor="middle" fill="#000">*</text>
<text x="117.72" y="540.35" font-family="'Liberation Sans', sans-serif" font-size="6.61" font-weight="bold" text-anchor="middle" fill="#000">##</text>
<text x="117.72" y="537.11" font-family="'Liberation Sans', sans-serif" font-size="6.61" text-anchor="middle" fill="#000" stroke="#000" stroke-width="0.1">^^</text>
<path d="M125.47 541.22V540.59M123.63 540.59H127.32" stroke="#000" stroke-width="0.94" fill="none"/>
<rect x="122.12" y="541.74" width="6.71" height="24.86" fill="#FFD0A0"/>
<path d="M122.12 566.6V541.74H128.83V566.6" stroke="#000" stroke-width="1.04" fill="none"/>
<text x="125.47" y="540.89" font-family="'Liberation Sans', sans-serif" font-size="8.79" font-weight="bold" text-anchor="middle" fill="#000">*</text>
<path d="M133.22 478V477.67M131.38 477.67H135.07" stroke="#000" stroke-width="0.94" fill="none"/>
<rect x="129.87" y="532.3" width="6.71" height="34.3" fill="#F0C8F8"/>
<path d="M129.87 532.3V566.6M136.58 532.3V566.6" stroke="#000" stroke-width="1.04"/>
<rect x="129.87" y="478.52" width="6.71" height="44.38" fill="#F0C8F8"/>
<path d="M129.87 522.9V478.52H136.58V522.9" stroke="#000" stroke-width="1.04" fill="none"/>
<text x="133.22" y="477.89" font-family="'Liberation Sans', sans-serif" font-size="8.79" font-weight="bold" text-anchor="middle" fill="#000" letter-spacing="0.66" dx="0.33">**</text>
<text x="133.22" y="470.05" font-family="'Liberation Sans', sans-serif" font-size="6.61" font-weight="bold" text-anchor="middle" fill="#000">##</text>
<text x="133.22" y="465.71" font-family="'Liberation Sans', sans-serif" font-size="6.61" text-anchor="middle" fill="#000" stroke="#000" stroke-width="0.1">^^</text>
<path d="M140.97 484.23V483.9M139.13 483.9H142.82" stroke="#000" stroke-width="0.94" fill="none"/>
<rect x="137.62" y="532.3" width="6.71" height="34.3" fill="#A0A0A8"/>
<path d="M137.62 532.3V566.6M144.33 532.3V566.6" stroke="#000" stroke-width="1.04"/>
<rect x="137.62" y="484.75" width="6.71" height="38.15" fill="#A0A0A8"/>
<path d="M137.62 522.9V484.75H144.33V522.9" stroke="#000" stroke-width="1.04" fill="none"/>
<text x="140.97" y="483.79" font-family="'Liberation Sans', sans-serif" font-size="8.79" font-weight="bold" text-anchor="middle" fill="#000" letter-spacing="0.66" dx="0.33">**</text>
<text x="140.97" y="476.85" font-family="'Liberation Sans', sans-serif" font-size="6.61" font-weight="bold" text-anchor="middle" fill="#000">##</text>
<text x="140.97" y="473.61" font-family="'Liberation Sans', sans-serif" font-size="6.61" text-anchor="middle" fill="#000" stroke="#000" stroke-width="0.1">^^</text>
<path d="M148.72 566.43V566.6M146.88 566.6H150.57" stroke="#000" stroke-width="0.94" fill="none"/>
<rect x="145.37" y="566.95" width="6.71" height="0.2" fill="#B838E2"/>
<path d="M145.37 566.6V566.95H152.08V566.6" stroke="#000" stroke-width="1.04" fill="none"/>
<text x="148.72" y="567.09" font-family="'Liberation Sans', sans-serif" font-size="8.79" font-weight="bold" text-anchor="middle" fill="#000" letter-spacing="0.66" dx="0.33">**</text>
<text x="148.72" y="559.35" font-family="'Liberation Sans', sans-serif" font-size="6.61" font-weight="bold" text-anchor="middle" fill="#000">##</text>
<path d="M164.88 555.2V554.37M163.03 554.37H166.72" stroke="#000" stroke-width="0.94" fill="none"/>
<rect x="161.52" y="555.72" width="6.71" height="10.89" fill="#FF4040"/>
<path d="M161.52 566.6V555.72H168.23V566.6" stroke="#000" stroke-width="1.04" fill="none"/>
<path d="M172.62 554.34V552.11M170.78 552.11H174.47" stroke="#000" stroke-width="0.94" fill="none"/>
<rect x="169.27" y="554.86" width="6.71" height="11.74" fill="#00F020"/>
<path d="M169.27 566.6V554.86H175.98V566.6" stroke="#000" stroke-width="1.04" fill="none"/>
<text x="172.62" y="549.25" font-family="'Liberation Sans', sans-serif" font-size="6.61" font-weight="bold" text-anchor="middle" fill="#000">#</text>
<text x="172.62" y="544.71" font-family="'Liberation Sans', sans-serif" font-size="6.61" text-anchor="middle" fill="#000" stroke="#000" stroke-width="0.1">^^</text>
<path d="M180.38 546.71V546.28M178.53 546.28H182.22" stroke="#000" stroke-width="0.94" fill="none"/>
<rect x="177.02" y="547.23" width="6.71" height="19.37" fill="#FFD0A0"/>
<path d="M177.02 566.6V547.23H183.73V566.6" stroke="#000" stroke-width="1.04" fill="none"/>
<text x="180.38" y="547.19" font-family="'Liberation Sans', sans-serif" font-size="8.79" font-weight="bold" text-anchor="middle" fill="#000" letter-spacing="0.66" dx="0.33">**</text>
<path d="M188.12 535.56V533.83M186.28 533.83H189.97" stroke="#000" stroke-width="0.94" fill="none"/>
<rect x="184.77" y="536.08" width="6.71" height="30.52" fill="#F0C8F8"/>
<path d="M184.77 566.6V536.08H191.48V566.6" stroke="#000" stroke-width="1.04" fill="none"/>
<text x="188.12" y="534.09" font-family="'Liberation Sans', sans-serif" font-size="8.79" font-weight="bold" text-anchor="middle" fill="#000" letter-spacing="0.66" dx="0.33">**</text>
<text x="188.12" y="526.35" font-family="'Liberation Sans', sans-serif" font-size="6.61" font-weight="bold" text-anchor="middle" fill="#000">#</text>
<text x="188.12" y="522.51" font-family="'Liberation Sans', sans-serif" font-size="6.61" text-anchor="middle" fill="#000" stroke="#000" stroke-width="0.1">^^</text>
<path d="M195.88 543.19V541.46M194.03 541.46H197.72" stroke="#000" stroke-width="0.94" fill="none"/>
<rect x="192.52" y="543.71" width="6.71" height="22.89" fill="#A0A0A8"/>
<path d="M192.52 566.6V543.71H199.23V566.6" stroke="#000" stroke-width="1.04" fill="none"/>
<text x="195.88" y="541.79" font-family="'Liberation Sans', sans-serif" font-size="8.79" font-weight="bold" text-anchor="middle" fill="#000" letter-spacing="0.66" dx="0.33">**</text>
<text x="195.88" y="536.71" font-family="'Liberation Sans', sans-serif" font-size="6.61" text-anchor="middle" fill="#000" stroke="#000" stroke-width="0.1">^^</text>
<path d="M203.62 566.43V566.6M201.78 566.6H205.47" stroke="#000" stroke-width="0.94" fill="none"/>
<rect x="200.27" y="566.95" width="6.71" height="0.2" fill="#B838E2"/>
<path d="M200.27 566.6V566.95H206.98V566.6" stroke="#000" stroke-width="1.04" fill="none"/>
<text x="203.62" y="566.99" font-family="'Liberation Sans', sans-serif" font-size="8.79" font-weight="bold" text-anchor="middle" fill="#000" letter-spacing="0.66" dx="0.33">**</text>
<text x="203.62" y="559.85" font-family="'Liberation Sans', sans-serif" font-size="6.61" font-weight="bold" text-anchor="middle" fill="#000">##</text>
<path d="M46.8 532.3V566.6" stroke="#000" stroke-width="1.46"/>
<path d="M41.89 566.6H46.8" stroke="#000" stroke-width="1.51"/>
<text x="40.47" y="569.75" font-family="'Liberation Serif', serif" font-weight="bold" font-size="9.54" text-anchor="end">0</text>
<path d="M41.89 558.02H46.8" stroke="#000" stroke-width="1.51"/>
<text x="40.47" y="561.17" font-family="'Liberation Serif', serif" font-weight="bold" font-size="9.54" text-anchor="end">100</text>
<path d="M41.89 549.45H46.8" stroke="#000" stroke-width="1.51"/>
<text x="40.47" y="552.6" font-family="'Liberation Serif', serif" font-weight="bold" font-size="9.54" text-anchor="end">200</text>
<path d="M41.89 540.88H46.8" stroke="#000" stroke-width="1.51"/>
<text x="40.47" y="544.02" font-family="'Liberation Serif', serif" font-weight="bold" font-size="9.54" text-anchor="end">300</text>
<path d="M43.78 532.3H49.82" stroke="#000" stroke-width="1.51"/>
<text x="40.47" y="535.45" font-family="'Liberation Serif', serif" font-weight="bold" font-size="9.54" text-anchor="end">400</text>
<path d="M46.8 424.77V522.9" stroke="#000" stroke-width="1.46"/>
<path d="M43.78 522.9H49.82" stroke="#000" stroke-width="1.51"/>
<text x="40.47" y="526.05" font-family="'Liberation Serif', serif" font-weight="bold" font-size="9.54" text-anchor="end">1000</text>
<path d="M41.89 498.55H46.8" stroke="#000" stroke-width="1.51"/>
<text x="40.47" y="501.7" font-family="'Liberation Serif', serif" font-weight="bold" font-size="9.54" text-anchor="end">1500</text>
<path d="M41.89 474.2H46.8" stroke="#000" stroke-width="1.51"/>
<text x="40.47" y="477.35" font-family="'Liberation Serif', serif" font-weight="bold" font-size="9.54" text-anchor="end">2000</text>
<path d="M41.89 449.85H46.8" stroke="#000" stroke-width="1.51"/>
<text x="40.47" y="453" font-family="'Liberation Serif', serif" font-weight="bold" font-size="9.54" text-anchor="end">2500</text>
<path d="M41.89 425.5H46.8" stroke="#000" stroke-width="1.51"/>
<text x="40.47" y="428.65" font-family="'Liberation Serif', serif" font-weight="bold" font-size="9.54" text-anchor="end">3000</text>
<path d="M46.07 566.6H212.6" stroke="#000" stroke-width="1.46"/>
<path d="M73.95 566.6V572.08" stroke="#000" stroke-width="1.51"/>
<text x="73.95" y="581.4" font-family="'Liberation Serif', serif" font-weight="bold" font-size="9.26" text-anchor="middle">7</text>
<path d="M129.45 566.6V572.08" stroke="#000" stroke-width="1.51"/>
<text x="129.45" y="581.4" font-family="'Liberation Serif', serif" font-weight="bold" font-size="9.26" text-anchor="middle">14</text>
<path d="M184.35 566.6V572.08" stroke="#000" stroke-width="1.51"/>
<text x="184.35" y="581.4" font-family="'Liberation Serif', serif" font-weight="bold" font-size="9.26" text-anchor="middle">21</text>
<text x="129.6" y="595.6" font-family="'Liberation Serif', serif" font-weight="bold" font-size="9.45" text-anchor="middle">Time of post vaccination (day)</text>
<text transform="translate(16.2 496) rotate(-90)" font-family="'Liberation Serif', serif" font-weight="bold" font-size="9.45" text-anchor="middle">IL-1β mRNA transcriptional level</text>
<rect x="225.87" y="483.13" width="12.19" height="4.54" fill="#FF4040" stroke="#000" stroke-width="1.18"/>
<text x="246.5" y="488.52" font-family="'Liberation Serif', serif" font-weight="bold" font-size="9.45">VP2D</text>
<rect x="225.87" y="498.82" width="12.19" height="4.54" fill="#00F020" stroke="#000" stroke-width="1.18"/>
<text x="246.5" y="504.21" font-family="'Liberation Serif', serif" font-weight="bold" font-size="9.45">VP2</text>
<rect x="225.87" y="514.51" width="12.19" height="4.54" fill="#FFD0A0" stroke="#000" stroke-width="1.18"/>
<text x="246.5" y="519.89" font-family="'Liberation Serif', serif" font-weight="bold" font-size="9.45">Commercial vaccine</text>
<rect x="225.87" y="530.19" width="12.19" height="4.54" fill="#F0C8F8" stroke="#000" stroke-width="1.18"/>
<text x="246.5" y="535.58" font-family="'Liberation Serif', serif" font-weight="bold" font-size="9.45">VP2D+CFA</text>
<rect x="225.87" y="545.88" width="12.19" height="4.54" fill="#A0A0A8" stroke="#000" stroke-width="1.18"/>
<text x="246.5" y="551.27" font-family="'Liberation Serif', serif" font-weight="bold" font-size="9.45">VP2D+IFA</text>
<rect x="225.87" y="561.57" width="12.19" height="4.54" fill="#B838E2" stroke="#000" stroke-width="1.18"/>
<text x="246.5" y="566.95" font-family="'Liberation Serif', serif" font-weight="bold" font-size="9.45">PBS</text>
</g>
<g>
<path d="M389.4 560.54V560.13M387.52 560.13H391.28" stroke="#000" stroke-width="0.96" fill="none"/>
<rect x="385.73" y="561.07" width="7.34" height="0.73" fill="#FF4040"/>
<path d="M385.73 561.8V561.07H393.07V561.8" stroke="#000" stroke-width="1.06" fill="none"/>
<path d="M397.8 561.08V560.86M395.92 560.86H399.68" stroke="#000" stroke-width="0.96" fill="none"/>
<rect x="394.13" y="561.61" width="7.34" height="0.2" fill="#00F020"/>
<path d="M394.13 561.8V561.61H401.47V561.8" stroke="#000" stroke-width="1.06" fill="none"/>
<path d="M406.2 560.9V560.58M404.32 560.58H408.08" stroke="#000" stroke-width="0.96" fill="none"/>
<rect x="402.53" y="561.43" width="7.34" height="0.37" fill="#FFD0A0"/>
<path d="M402.53 561.8V561.43H409.87V561.8" stroke="#000" stroke-width="1.06" fill="none"/>
<path d="M414.6 549.09V548.47M412.72 548.47H416.48" stroke="#000" stroke-width="0.96" fill="none"/>
<rect x="410.93" y="549.62" width="7.34" height="12.18" fill="#F0C8F8"/>
<path d="M410.93 561.8V549.62H418.27V561.8" stroke="#000" stroke-width="1.06" fill="none"/>
<text x="414.6" y="549.29" font-family="'Liberation Sans', sans-serif" font-size="8.97" font-weight="bold" text-anchor="middle" fill="#000" letter-spacing="0.68" dx="0.34">**</text>
<text x="414.6" y="540.8" font-family="'Liberation Sans', sans-serif" font-size="6.75" font-weight="bold" text-anchor="middle" fill="#000">##</text>
<text x="414.6" y="536.68" font-family="'Liberation Sans', sans-serif" font-size="6.75" text-anchor="middle" fill="#000" stroke="#000" stroke-width="0.1">^^</text>
<path d="M423 557.13V556.52M421.12 556.52H424.88" stroke="#000" stroke-width="0.96" fill="none"/>
<rect x="419.33" y="557.66" width="7.34" height="4.14" fill="#A0A0A8"/>
<path d="M419.33 561.8V557.66H426.67V561.8" stroke="#000" stroke-width="1.06" fill="none"/>
<text x="423" y="556.39" font-family="'Liberation Sans', sans-serif" font-size="8.97" font-weight="bold" text-anchor="middle" fill="#000" letter-spacing="0.68" dx="0.34">**</text>
<text x="423" y="549.2" font-family="'Liberation Sans', sans-serif" font-size="6.75" font-weight="bold" text-anchor="middle" fill="#000">##</text>
<text x="423" y="545.08" font-family="'Liberation Sans', sans-serif" font-size="6.75" text-anchor="middle" fill="#000" stroke="#000" stroke-width="0.1">^^</text>
<path d="M431.4 561.53V561.71M429.52 561.71H433.28" stroke="#000" stroke-width="0.96" fill="none"/>
<rect x="427.73" y="562.06" width="7.34" height="0.2" fill="#B838E2"/>
<path d="M427.73 561.8V562.06H435.07V561.8" stroke="#000" stroke-width="1.06" fill="none"/>
<text x="431.4" y="561.99" font-family="'Liberation Sans', sans-serif" font-size="8.97" font-weight="bold" text-anchor="middle" fill="#000" letter-spacing="0.68" dx="0.34">**</text>
<text x="431.4" y="553.9" font-family="'Liberation Sans', sans-serif" font-size="6.75" font-weight="bold" text-anchor="middle" fill="#000">#</text>
<path d="M448.3 483.59V482.68M446.42 482.68H450.18" stroke="#000" stroke-width="0.96" fill="none"/>
<rect x="444.63" y="525.9" width="7.34" height="35.9" fill="#FF4040"/>
<path d="M444.63 525.9V561.8M451.97 525.9V561.8" stroke="#000" stroke-width="1.06"/>
<rect x="444.63" y="484.12" width="7.34" height="32.18" fill="#FF4040"/>
<path d="M444.63 516.3V484.12H451.97V516.3" stroke="#000" stroke-width="1.06" fill="none"/>
<path d="M456.7 494.4V493.28M454.82 493.28H458.58" stroke="#000" stroke-width="0.96" fill="none"/>
<rect x="453.03" y="525.9" width="7.34" height="35.9" fill="#00F020"/>
<path d="M453.03 525.9V561.8M460.37 525.9V561.8" stroke="#000" stroke-width="1.06"/>
<rect x="453.03" y="494.93" width="7.34" height="21.37" fill="#00F020"/>
<path d="M453.03 516.3V494.93H460.37V516.3" stroke="#000" stroke-width="1.06" fill="none"/>
<text x="456.7" y="492.19" font-family="'Liberation Sans', sans-serif" font-size="8.97" font-weight="bold" text-anchor="middle" fill="#000">*</text>
<text x="456.7" y="483.9" font-family="'Liberation Sans', sans-serif" font-size="6.75" font-weight="bold" text-anchor="middle" fill="#000">##</text>
<text x="456.7" y="479.48" font-family="'Liberation Sans', sans-serif" font-size="6.75" text-anchor="middle" fill="#000" stroke="#000" stroke-width="0.1">^^</text>
<path d="M465.1 485.17V484.65M463.22 484.65H466.98" stroke="#000" stroke-width="0.96" fill="none"/>
<rect x="461.43" y="525.9" width="7.34" height="35.9" fill="#FFD0A0"/>
<path d="M461.43 525.9V561.8M468.77 525.9V561.8" stroke="#000" stroke-width="1.06"/>
<rect x="461.43" y="485.7" width="7.34" height="30.6" fill="#FFD0A0"/>
<path d="M461.43 516.3V485.7H468.77V516.3" stroke="#000" stroke-width="1.06" fill="none"/>
<path d="M473.5 436V435.68M471.62 435.68H475.38" stroke="#000" stroke-width="0.96" fill="none"/>
<rect x="469.83" y="525.9" width="7.34" height="35.9" fill="#F0C8F8"/>
<path d="M469.83 525.9V561.8M477.17 525.9V561.8" stroke="#000" stroke-width="1.06"/>
<rect x="469.83" y="480.1" width="7.34" height="36.2" fill="#F0C8F8"/>
<path d="M469.83 480.1V516.3M477.17 480.1V516.3" stroke="#000" stroke-width="1.06"/>
<rect x="469.83" y="436.53" width="7.34" height="33.87" fill="#F0C8F8"/>
<path d="M469.83 470.4V436.53H477.17V470.4" stroke="#000" stroke-width="1.06" fill="none"/>
<text x="473.5" y="435.19" font-family="'Liberation Sans', sans-serif" font-size="8.97" font-weight="bold" text-anchor="middle" fill="#000" letter-spacing="0.68" dx="0.34">**</text>
<text x="473.5" y="427.5" font-family="'Liberation Sans', sans-serif" font-size="6.75" font-weight="bold" text-anchor="middle" fill="#000">##</text>
<text x="473.5" y="423.18" font-family="'Liberation Sans', sans-serif" font-size="6.75" text-anchor="middle" fill="#000" stroke="#000" stroke-width="0.1">^^</text>
<path d="M481.9 464.5V463.79M480.02 463.79H483.78" stroke="#000" stroke-width="0.96" fill="none"/>
<rect x="478.23" y="525.9" width="7.34" height="35.9" fill="#A0A0A8"/>
<path d="M478.23 525.9V561.8M485.57 525.9V561.8" stroke="#000" stroke-width="1.06"/>
<rect x="478.23" y="480.1" width="7.34" height="36.2" fill="#A0A0A8"/>
<path d="M478.23 480.1V516.3M485.57 480.1V516.3" stroke="#000" stroke-width="1.06"/>
<rect x="478.23" y="465.03" width="7.34" height="5.37" fill="#A0A0A8"/>
<path d="M478.23 470.4V465.03H485.57V470.4" stroke="#000" stroke-width="1.06" fill="none"/>
<text x="481.9" y="462.69" font-family="'Liberation Sans', sans-serif" font-size="8.97" font-weight="bold" text-anchor="middle" fill="#000" letter-spacing="0.68" dx="0.34">**</text>
<text x="481.9" y="455" font-family="'Liberation Sans', sans-serif" font-size="6.75" font-weight="bold" text-anchor="middle" fill="#000">##</text>
<text x="481.9" y="450.38" font-family="'Liberation Sans', sans-serif" font-size="6.75" text-anchor="middle" fill="#000" stroke="#000" stroke-width="0.1">^^</text>
<path d="M490.3 561.62V561.8M488.42 561.8H492.18" stroke="#000" stroke-width="0.96" fill="none"/>
<rect x="486.63" y="562.15" width="7.34" height="0.2" fill="#B838E2"/>
<path d="M486.63 561.8V562.15H493.97V561.8" stroke="#000" stroke-width="1.06" fill="none"/>
<text x="490.3" y="560.89" font-family="'Liberation Sans', sans-serif" font-size="8.97" font-weight="bold" text-anchor="middle" fill="#000" letter-spacing="0.68" dx="0.34">**</text>
<text x="490.3" y="553" font-family="'Liberation Sans', sans-serif" font-size="6.75" font-weight="bold" text-anchor="middle" fill="#000">##</text>
<path d="M507.2 547.98V547.46M505.32 547.46H509.08" stroke="#000" stroke-width="0.96" fill="none"/>
<rect x="503.53" y="548.51" width="7.34" height="13.29" fill="#FF4040"/>
<path d="M503.53 561.8V548.51H510.87V561.8" stroke="#000" stroke-width="1.06" fill="none"/>
<path d="M515.6 547.8V547.28M513.72 547.28H517.48" stroke="#000" stroke-width="0.96" fill="none"/>
<rect x="511.93" y="548.33" width="7.34" height="13.47" fill="#00F020"/>
<path d="M511.93 561.8V548.33H519.27V561.8" stroke="#000" stroke-width="1.06" fill="none"/>
<text x="515.6" y="547.28" font-family="'Liberation Sans', sans-serif" font-size="6.75" text-anchor="middle" fill="#000" stroke="#000" stroke-width="0.1">^^</text>
<path d="M524 549.59V549.08M522.12 549.08H525.88" stroke="#000" stroke-width="0.96" fill="none"/>
<rect x="520.33" y="550.12" width="7.34" height="11.68" fill="#FFD0A0"/>
<path d="M520.33 561.8V550.12H527.67V561.8" stroke="#000" stroke-width="1.06" fill="none"/>
<path d="M532.4 541.52V541M530.52 541H534.28" stroke="#000" stroke-width="0.96" fill="none"/>
<rect x="528.73" y="542.05" width="7.34" height="19.75" fill="#F0C8F8"/>
<path d="M528.73 561.8V542.05H536.07V561.8" stroke="#000" stroke-width="1.06" fill="none"/>
<text x="532.4" y="540.69" font-family="'Liberation Sans', sans-serif" font-size="8.97" font-weight="bold" text-anchor="middle" fill="#000">*</text>
<text x="532.4" y="532.9" font-family="'Liberation Sans', sans-serif" font-size="6.75" font-weight="bold" text-anchor="middle" fill="#000">##</text>
<text x="532.4" y="528.98" font-family="'Liberation Sans', sans-serif" font-size="6.75" text-anchor="middle" fill="#000" stroke="#000" stroke-width="0.1">^^</text>
<path d="M540.8 547.08V546.56M538.92 546.56H542.68" stroke="#000" stroke-width="0.96" fill="none"/>
<rect x="537.13" y="547.61" width="7.34" height="14.19" fill="#A0A0A8"/>
<path d="M537.13 561.8V547.61H544.47V561.8" stroke="#000" stroke-width="1.06" fill="none"/>
<text x="540.8" y="546.89" font-family="'Liberation Sans', sans-serif" font-size="8.97" font-weight="bold" text-anchor="middle" fill="#000" letter-spacing="0.68" dx="0.34">**</text>
<text x="540.8" y="539.6" font-family="'Liberation Sans', sans-serif" font-size="6.75" font-weight="bold" text-anchor="middle" fill="#000">##</text>
<text x="540.8" y="535.78" font-family="'Liberation Sans', sans-serif" font-size="6.75" text-anchor="middle" fill="#000" stroke="#000" stroke-width="0.1">^^</text>
<path d="M549.2 561.62V561.8M547.32 561.8H551.08" stroke="#000" stroke-width="0.96" fill="none"/>
<rect x="545.53" y="562.15" width="7.34" height="0.2" fill="#B838E2"/>
<path d="M545.53 561.8V562.15H552.87V561.8" stroke="#000" stroke-width="1.06" fill="none"/>
<path d="M381.1 525.9V561.8" stroke="#000" stroke-width="1.5"/>
<path d="M376.08 561.8H381.1" stroke="#000" stroke-width="1.54"/>
<text x="374.63" y="565.02" font-family="'Liberation Serif', serif" font-weight="bold" font-size="9.75" text-anchor="end">0</text>
<path d="M376.08 543.85H381.1" stroke="#000" stroke-width="1.54"/>
<text x="374.63" y="547.07" font-family="'Liberation Serif', serif" font-weight="bold" font-size="9.75" text-anchor="end">100</text>
<path d="M378.01 525.9H384.19" stroke="#000" stroke-width="1.54"/>
<text x="374.63" y="529.12" font-family="'Liberation Serif', serif" font-weight="bold" font-size="9.75" text-anchor="end">200</text>
<path d="M381.1 480.1V516.3" stroke="#000" stroke-width="1.5"/>
<path d="M378.01 516.3H384.19" stroke="#000" stroke-width="1.54"/>
<text x="374.63" y="519.52" font-family="'Liberation Serif', serif" font-weight="bold" font-size="9.75" text-anchor="end">300</text>
<path d="M376.08 498.2H381.1" stroke="#000" stroke-width="1.54"/>
<text x="374.63" y="501.42" font-family="'Liberation Serif', serif" font-weight="bold" font-size="9.75" text-anchor="end">400</text>
<path d="M378.01 480.1H384.19" stroke="#000" stroke-width="1.54"/>
<text x="374.63" y="483.32" font-family="'Liberation Serif', serif" font-weight="bold" font-size="9.75" text-anchor="end">500</text>
<path d="M381.1 433.75V470.4" stroke="#000" stroke-width="1.5"/>
<path d="M378.01 470.4H384.19" stroke="#000" stroke-width="1.54"/>
<text x="374.63" y="473.62" font-family="'Liberation Serif', serif" font-weight="bold" font-size="9.75" text-anchor="end">1000</text>
<path d="M376.08 452.45H381.1" stroke="#000" stroke-width="1.54"/>
<text x="374.63" y="455.67" font-family="'Liberation Serif', serif" font-weight="bold" font-size="9.75" text-anchor="end">3000</text>
<path d="M376.08 434.5H381.1" stroke="#000" stroke-width="1.54"/>
<text x="374.63" y="437.72" font-family="'Liberation Serif', serif" font-weight="bold" font-size="9.75" text-anchor="end">5000</text>
<path d="M380.35 561.8H557.8" stroke="#000" stroke-width="1.5"/>
<path d="M409.9 561.8V567.4" stroke="#000" stroke-width="1.54"/>
<text x="409.9" y="576.9" font-family="'Liberation Serif', serif" font-weight="bold" font-size="9.46" text-anchor="middle">7</text>
<path d="M468.8 561.8V567.4" stroke="#000" stroke-width="1.54"/>
<text x="468.8" y="576.9" font-family="'Liberation Serif', serif" font-weight="bold" font-size="9.46" text-anchor="middle">14</text>
<path d="M527.7 561.8V567.4" stroke="#000" stroke-width="1.54"/>
<text x="527.7" y="576.9" font-family="'Liberation Serif', serif" font-weight="bold" font-size="9.46" text-anchor="middle">21</text>
<text x="469" y="591.6" font-family="'Liberation Serif', serif" font-weight="bold" font-size="9.65" text-anchor="middle">Time of post vaccination (day)</text>
<text transform="translate(349.3 497) rotate(-90)" font-family="'Liberation Serif', serif" font-weight="bold" font-size="9.65" text-anchor="middle">IL-4 mRNA transcriptional level</text>
<rect x="578.08" y="474.48" width="12.45" height="4.63" fill="#FF4040" stroke="#000" stroke-width="1.21"/>
<text x="599.3" y="479.98" font-family="'Liberation Serif', serif" font-weight="bold" font-size="9.65">VP2D</text>
<rect x="578.08" y="490.5" width="12.45" height="4.63" fill="#00F020" stroke="#000" stroke-width="1.21"/>
<text x="599.3" y="496" font-family="'Liberation Serif', serif" font-weight="bold" font-size="9.65">VP2</text>
<rect x="578.08" y="506.52" width="12.45" height="4.63" fill="#FFD0A0" stroke="#000" stroke-width="1.21"/>
<text x="599.3" y="512.02" font-family="'Liberation Serif', serif" font-weight="bold" font-size="9.65">Commercial vaccine</text>
<rect x="578.08" y="522.54" width="12.45" height="4.63" fill="#F0C8F8" stroke="#000" stroke-width="1.21"/>
<text x="599.3" y="528.04" font-family="'Liberation Serif', serif" font-weight="bold" font-size="9.65">VP2D+CFA</text>
<rect x="578.08" y="538.56" width="12.45" height="4.63" fill="#A0A0A8" stroke="#000" stroke-width="1.21"/>
<text x="599.3" y="544.06" font-family="'Liberation Serif', serif" font-weight="bold" font-size="9.65">VP2D+IFA</text>
<rect x="578.08" y="554.58" width="12.45" height="4.63" fill="#B838E2" stroke="#000" stroke-width="1.21"/>
<text x="599.3" y="560.08" font-family="'Liberation Serif', serif" font-weight="bold" font-size="9.65">PBS</text>
</g>
<g>
<path d="M57.12 752.18V751.45M55.29 751.45H58.96" stroke="#000" stroke-width="0.94" fill="none"/>
<rect x="53.52" y="752.7" width="7.22" height="2.1" fill="#FF4040"/>
<path d="M53.52 754.8V752.7H60.73V754.8" stroke="#000" stroke-width="1.03" fill="none"/>
<path d="M65.38 752.18V751.45M63.54 751.45H67.21" stroke="#000" stroke-width="0.94" fill="none"/>
<rect x="61.77" y="752.7" width="7.22" height="2.1" fill="#00F020"/>
<path d="M61.77 754.8V752.7H68.98V754.8" stroke="#000" stroke-width="1.03" fill="none"/>
<text x="65.38" y="752.49" font-family="'Liberation Sans', sans-serif" font-size="6.57" text-anchor="middle" fill="#000" stroke="#000" stroke-width="0.1">^</text>
<path d="M73.62 752.18V751.45M71.79 751.45H75.46" stroke="#000" stroke-width="0.94" fill="none"/>
<rect x="70.02" y="752.7" width="7.22" height="2.1" fill="#FFD0A0"/>
<path d="M70.02 754.8V752.7H77.23V754.8" stroke="#000" stroke-width="1.03" fill="none"/>
<path d="M81.88 737.11V735.77M80.04 735.77H83.71" stroke="#000" stroke-width="0.94" fill="none"/>
<rect x="78.27" y="737.62" width="7.22" height="17.18" fill="#F0C8F8"/>
<path d="M78.27 754.8V737.62H85.48V754.8" stroke="#000" stroke-width="1.03" fill="none"/>
<text x="81.88" y="736.36" font-family="'Liberation Sans', sans-serif" font-size="8.73" font-weight="bold" text-anchor="middle" fill="#000" letter-spacing="0.66" dx="0.33">**</text>
<text x="81.88" y="728.53" font-family="'Liberation Sans', sans-serif" font-size="6.57" font-weight="bold" text-anchor="middle" fill="#000">##</text>
<text x="81.88" y="723.89" font-family="'Liberation Sans', sans-serif" font-size="6.57" text-anchor="middle" fill="#000" stroke="#000" stroke-width="0.1">^^</text>
<path d="M90.12 743.46V743.03M88.29 743.03H91.96" stroke="#000" stroke-width="0.94" fill="none"/>
<rect x="86.52" y="743.97" width="7.22" height="10.83" fill="#A0A0A8"/>
<path d="M86.52 754.8V743.97H93.73V754.8" stroke="#000" stroke-width="1.03" fill="none"/>
<text x="90.12" y="743.06" font-family="'Liberation Sans', sans-serif" font-size="8.73" font-weight="bold" text-anchor="middle" fill="#000" letter-spacing="0.66" dx="0.33">**</text>
<text x="90.12" y="734.53" font-family="'Liberation Sans', sans-serif" font-size="6.57" font-weight="bold" text-anchor="middle" fill="#000">##</text>
<text x="90.12" y="730.69" font-family="'Liberation Sans', sans-serif" font-size="6.57" text-anchor="middle" fill="#000" stroke="#000" stroke-width="0.1">^^</text>
<path d="M98.38 754.52V754.79M96.54 754.79H100.21" stroke="#000" stroke-width="0.94" fill="none"/>
<rect x="94.77" y="755.04" width="7.22" height="0.2" fill="#B838E2"/>
<path d="M94.77 754.8V755.04H101.98V754.8" stroke="#000" stroke-width="1.03" fill="none"/>
<text x="98.38" y="755.96" font-family="'Liberation Sans', sans-serif" font-size="8.73" font-weight="bold" text-anchor="middle" fill="#000">*</text>
<path d="M114.33 658.42V657.99M112.49 657.99H116.16" stroke="#000" stroke-width="0.94" fill="none"/>
<rect x="110.72" y="719.9" width="7.22" height="34.9" fill="#FF4040"/>
<path d="M110.72 719.9V754.8M117.93 719.9V754.8" stroke="#000" stroke-width="1.03"/>
<rect x="110.72" y="675.5" width="7.22" height="35" fill="#FF4040"/>
<path d="M110.72 675.5V710.5M117.93 675.5V710.5" stroke="#000" stroke-width="1.03"/>
<rect x="110.72" y="658.94" width="7.22" height="7.16" fill="#FF4040"/>
<path d="M110.72 666.1V658.94H117.93V666.1" stroke="#000" stroke-width="1.03" fill="none"/>
<path d="M122.58 660.12V659.28M120.74 659.28H124.41" stroke="#000" stroke-width="0.94" fill="none"/>
<rect x="118.97" y="719.9" width="7.22" height="34.9" fill="#00F020"/>
<path d="M118.97 719.9V754.8M126.18 719.9V754.8" stroke="#000" stroke-width="1.03"/>
<rect x="118.97" y="675.5" width="7.22" height="35" fill="#00F020"/>
<path d="M118.97 675.5V710.5M126.18 675.5V710.5" stroke="#000" stroke-width="1.03"/>
<rect x="118.97" y="660.63" width="7.22" height="5.47" fill="#00F020"/>
<path d="M118.97 666.1V660.63H126.18V666.1" stroke="#000" stroke-width="1.03" fill="none"/>
<text x="122.58" y="657.03" font-family="'Liberation Sans', sans-serif" font-size="6.57" font-weight="bold" text-anchor="middle" fill="#000">##</text>
<text x="122.58" y="653.19" font-family="'Liberation Sans', sans-serif" font-size="6.57" text-anchor="middle" fill="#000" stroke="#000" stroke-width="0.1">^^</text>
<path d="M130.82 696.72V694.99M128.99 694.99H132.66" stroke="#000" stroke-width="0.94" fill="none"/>
<rect x="127.22" y="719.9" width="7.22" height="34.9" fill="#FFD0A0"/>
<path d="M127.22 719.9V754.8M134.43 719.9V754.8" stroke="#000" stroke-width="1.03"/>
<rect x="127.22" y="697.23" width="7.22" height="13.27" fill="#FFD0A0"/>
<path d="M127.22 710.5V697.23H134.43V710.5" stroke="#000" stroke-width="1.03" fill="none"/>
<text x="130.82" y="693.16" font-family="'Liberation Sans', sans-serif" font-size="8.73" font-weight="bold" text-anchor="middle" fill="#000" letter-spacing="0.66" dx="0.33">**</text>
<path d="M139.07 643.86V642.83M137.24 642.83H140.91" stroke="#000" stroke-width="0.94" fill="none"/>
<rect x="135.47" y="719.9" width="7.22" height="34.9" fill="#F0C8F8"/>
<path d="M135.47 719.9V754.8M142.68 719.9V754.8" stroke="#000" stroke-width="1.03"/>
<rect x="135.47" y="675.5" width="7.22" height="35" fill="#F0C8F8"/>
<path d="M135.47 675.5V710.5M142.68 675.5V710.5" stroke="#000" stroke-width="1.03"/>
<rect x="135.47" y="644.38" width="7.22" height="21.72" fill="#F0C8F8"/>
<path d="M135.47 666.1V644.38H142.68V666.1" stroke="#000" stroke-width="1.03" fill="none"/>
<text x="139.07" y="643.06" font-family="'Liberation Sans', sans-serif" font-size="8.73" font-weight="bold" text-anchor="middle" fill="#000" letter-spacing="0.66" dx="0.33">**</text>
<text x="139.07" y="635.53" font-family="'Liberation Sans', sans-serif" font-size="6.57" font-weight="bold" text-anchor="middle" fill="#000">##</text>
<text x="139.07" y="631.39" font-family="'Liberation Sans', sans-serif" font-size="6.57" text-anchor="middle" fill="#000" stroke="#000" stroke-width="0.1">^^</text>
<path d="M147.32 650.45V650.01M145.49 650.01H149.16" stroke="#000" stroke-width="0.94" fill="none"/>
<rect x="143.72" y="719.9" width="7.22" height="34.9" fill="#A0A0A8"/>
<path d="M143.72 719.9V754.8M150.93 719.9V754.8" stroke="#000" stroke-width="1.03"/>
<rect x="143.72" y="675.5" width="7.22" height="35" fill="#A0A0A8"/>
<path d="M143.72 675.5V710.5M150.93 675.5V710.5" stroke="#000" stroke-width="1.03"/>
<rect x="143.72" y="650.96" width="7.22" height="15.14" fill="#A0A0A8"/>
<path d="M143.72 666.1V650.96H150.93V666.1" stroke="#000" stroke-width="1.03" fill="none"/>
<text x="147.32" y="650.16" font-family="'Liberation Sans', sans-serif" font-size="8.73" font-weight="bold" text-anchor="middle" fill="#000" letter-spacing="0.66" dx="0.33">**</text>
<text x="147.32" y="642.03" font-family="'Liberation Sans', sans-serif" font-size="6.57" font-weight="bold" text-anchor="middle" fill="#000">##</text>
<text x="147.32" y="638.29" font-family="'Liberation Sans', sans-serif" font-size="6.57" text-anchor="middle" fill="#000" stroke="#000" stroke-width="0.1">^^</text>
<path d="M155.57 754.45V754.72M153.74 754.72H157.41" stroke="#000" stroke-width="0.94" fill="none"/>
<rect x="151.97" y="754.97" width="7.22" height="0.2" fill="#B838E2"/>
<path d="M151.97 754.8V754.97H159.18V754.8" stroke="#000" stroke-width="1.03" fill="none"/>
<text x="155.57" y="754.16" font-family="'Liberation Sans', sans-serif" font-size="8.73" font-weight="bold" text-anchor="middle" fill="#000" letter-spacing="0.66" dx="0.33">**</text>
<text x="155.57" y="746.63" font-family="'Liberation Sans', sans-serif" font-size="6.57" font-weight="bold" text-anchor="middle" fill="#000">##</text>
<path d="M171.82 687.14V686.21M169.99 686.21H173.66" stroke="#000" stroke-width="0.94" fill="none"/>
<rect x="168.22" y="719.9" width="7.22" height="34.9" fill="#FF4040"/>
<path d="M168.22 719.9V754.8M175.43 719.9V754.8" stroke="#000" stroke-width="1.03"/>
<rect x="168.22" y="687.65" width="7.22" height="22.85" fill="#FF4040"/>
<path d="M168.22 710.5V687.65H175.43V710.5" stroke="#000" stroke-width="1.03" fill="none"/>
<path d="M180.07 701.92V700.59M178.24 700.59H181.91" stroke="#000" stroke-width="0.94" fill="none"/>
<rect x="176.47" y="719.9" width="7.22" height="34.9" fill="#00F020"/>
<path d="M176.47 719.9V754.8M183.68 719.9V754.8" stroke="#000" stroke-width="1.03"/>
<rect x="176.47" y="702.44" width="7.22" height="8.06" fill="#00F020"/>
<path d="M176.47 710.5V702.44H183.68V710.5" stroke="#000" stroke-width="1.03" fill="none"/>
<text x="180.07" y="700.56" font-family="'Liberation Sans', sans-serif" font-size="8.73" font-weight="bold" text-anchor="middle" fill="#000" letter-spacing="0.66" dx="0.33">**</text>
<text x="180.07" y="694.69" font-family="'Liberation Sans', sans-serif" font-size="6.57" text-anchor="middle" fill="#000" stroke="#000" stroke-width="0.1">^^</text>
<path d="M188.32 701.53V700.6M186.49 700.6H190.16" stroke="#000" stroke-width="0.94" fill="none"/>
<rect x="184.72" y="719.9" width="7.22" height="34.9" fill="#FFD0A0"/>
<path d="M184.72 719.9V754.8M191.93 719.9V754.8" stroke="#000" stroke-width="1.03"/>
<rect x="184.72" y="702.05" width="7.22" height="8.45" fill="#FFD0A0"/>
<path d="M184.72 710.5V702.05H191.93V710.5" stroke="#000" stroke-width="1.03" fill="none"/>
<text x="188.32" y="701.26" font-family="'Liberation Sans', sans-serif" font-size="8.73" font-weight="bold" text-anchor="middle" fill="#000" letter-spacing="0.66" dx="0.33">**</text>
<path d="M196.57 679.7V679.07M194.74 679.07H198.41" stroke="#000" stroke-width="0.94" fill="none"/>
<rect x="192.97" y="719.9" width="7.22" height="34.9" fill="#F0C8F8"/>
<path d="M192.97 719.9V754.8M200.18 719.9V754.8" stroke="#000" stroke-width="1.03"/>
<rect x="192.97" y="680.22" width="7.22" height="30.28" fill="#F0C8F8"/>
<path d="M192.97 710.5V680.22H200.18V710.5" stroke="#000" stroke-width="1.03" fill="none"/>
<text x="196.57" y="680.06" font-family="'Liberation Sans', sans-serif" font-size="8.73" font-weight="bold" text-anchor="middle" fill="#000" letter-spacing="0.66" dx="0.33">**</text>
<text x="196.57" y="671.93" font-family="'Liberation Sans', sans-serif" font-size="6.57" font-weight="bold" text-anchor="middle" fill="#000">##</text>
<text x="196.57" y="668.09" font-family="'Liberation Sans', sans-serif" font-size="6.57" text-anchor="middle" fill="#000" stroke="#000" stroke-width="0.1">^^</text>
<path d="M204.82 686.04V684.21M202.99 684.21H206.66" stroke="#000" stroke-width="0.94" fill="none"/>
<rect x="201.22" y="719.9" width="7.22" height="34.9" fill="#A0A0A8"/>
<path d="M201.22 719.9V754.8M208.43 719.9V754.8" stroke="#000" stroke-width="1.03"/>
<rect x="201.22" y="686.56" width="7.22" height="23.94" fill="#A0A0A8"/>
<path d="M201.22 710.5V686.56H208.43V710.5" stroke="#000" stroke-width="1.03" fill="none"/>
<text x="204.82" y="682.43" font-family="'Liberation Sans', sans-serif" font-size="6.57" font-weight="bold" text-anchor="middle" fill="#000">##</text>
<text x="204.82" y="678.69" font-family="'Liberation Sans', sans-serif" font-size="6.57" text-anchor="middle" fill="#000" stroke="#000" stroke-width="0.1">^^</text>
<path d="M213.07 754.45V754.72M211.24 754.72H214.91" stroke="#000" stroke-width="0.94" fill="none"/>
<rect x="209.47" y="754.97" width="7.22" height="0.2" fill="#B838E2"/>
<path d="M209.47 754.8V754.97H216.68V754.8" stroke="#000" stroke-width="1.03" fill="none"/>
<text x="213.07" y="755.26" font-family="'Liberation Sans', sans-serif" font-size="8.73" font-weight="bold" text-anchor="middle" fill="#000" letter-spacing="0.66" dx="0.33">**</text>
<text x="213.07" y="746.93" font-family="'Liberation Sans', sans-serif" font-size="6.57" font-weight="bold" text-anchor="middle" fill="#000">##</text>
<path d="M49.4 719.9V754.8" stroke="#000" stroke-width="1.45"/>
<path d="M44.52 754.8H49.4" stroke="#000" stroke-width="1.5"/>
<text x="43.11" y="757.93" font-family="'Liberation Serif', serif" font-weight="bold" font-size="9.48" text-anchor="end">0</text>
<path d="M44.52 737.35H49.4" stroke="#000" stroke-width="1.5"/>
<text x="43.11" y="740.48" font-family="'Liberation Serif', serif" font-weight="bold" font-size="9.48" text-anchor="end">50</text>
<path d="M46.4 719.9H52.4" stroke="#000" stroke-width="1.5"/>
<text x="43.11" y="723.03" font-family="'Liberation Serif', serif" font-weight="bold" font-size="9.48" text-anchor="end">100</text>
<path d="M49.4 675.5V710.5" stroke="#000" stroke-width="1.45"/>
<path d="M46.4 710.5H52.4" stroke="#000" stroke-width="1.5"/>
<text x="43.11" y="713.63" font-family="'Liberation Serif', serif" font-weight="bold" font-size="9.48" text-anchor="end">200</text>
<path d="M44.52 693H49.4" stroke="#000" stroke-width="1.5"/>
<text x="43.11" y="696.13" font-family="'Liberation Serif', serif" font-weight="bold" font-size="9.48" text-anchor="end">600</text>
<path d="M46.4 675.5H52.4" stroke="#000" stroke-width="1.5"/>
<text x="43.11" y="678.63" font-family="'Liberation Serif', serif" font-weight="bold" font-size="9.48" text-anchor="end">1000</text>
<path d="M49.4 630.27V666.1" stroke="#000" stroke-width="1.45"/>
<path d="M46.4 666.1H52.4" stroke="#000" stroke-width="1.5"/>
<text x="43.11" y="669.23" font-family="'Liberation Serif', serif" font-weight="bold" font-size="9.48" text-anchor="end">1000</text>
<path d="M44.52 648.55H49.4" stroke="#000" stroke-width="1.5"/>
<text x="43.11" y="651.68" font-family="'Liberation Serif', serif" font-weight="bold" font-size="9.48" text-anchor="end">3000</text>
<path d="M44.52 631H49.4" stroke="#000" stroke-width="1.5"/>
<text x="43.11" y="634.13" font-family="'Liberation Serif', serif" font-weight="bold" font-size="9.48" text-anchor="end">5000</text>
<path d="M48.67 754.8H221" stroke="#000" stroke-width="1.45"/>
<path d="M77.25 754.8V760.24" stroke="#000" stroke-width="1.5"/>
<text x="77.25" y="769.6" font-family="'Liberation Serif', serif" font-weight="bold" font-size="9.2" text-anchor="middle">7</text>
<path d="M134.45 754.8V760.24" stroke="#000" stroke-width="1.5"/>
<text x="134.45" y="769.6" font-family="'Liberation Serif', serif" font-weight="bold" font-size="9.2" text-anchor="middle">14</text>
<path d="M191.95 754.8V760.24" stroke="#000" stroke-width="1.5"/>
<text x="191.95" y="769.6" font-family="'Liberation Serif', serif" font-weight="bold" font-size="9.2" text-anchor="middle">21</text>
<text x="134.5" y="783.6" font-family="'Liberation Serif', serif" font-weight="bold" font-size="9.39" text-anchor="middle">Time of post vaccination (day)</text>
<text transform="translate(18.4 693) rotate(-90)" font-family="'Liberation Serif', serif" font-weight="bold" font-size="9.39" text-anchor="middle">IL-17 mRNA transcriptional level</text>
<rect x="236.07" y="672.75" width="12.11" height="4.51" fill="#FF4040" stroke="#000" stroke-width="1.17"/>
<text x="256.7" y="678.1" font-family="'Liberation Serif', serif" font-weight="bold" font-size="9.39">VP2D</text>
<rect x="236.07" y="688.33" width="12.11" height="4.51" fill="#00F020" stroke="#000" stroke-width="1.17"/>
<text x="256.7" y="693.68" font-family="'Liberation Serif', serif" font-weight="bold" font-size="9.39">VP2</text>
<rect x="236.07" y="703.91" width="12.11" height="4.51" fill="#FFD0A0" stroke="#000" stroke-width="1.17"/>
<text x="256.7" y="709.26" font-family="'Liberation Serif', serif" font-weight="bold" font-size="9.39">Commercial vaccine</text>
<rect x="236.07" y="719.49" width="12.11" height="4.51" fill="#F0C8F8" stroke="#000" stroke-width="1.17"/>
<text x="256.7" y="724.84" font-family="'Liberation Serif', serif" font-weight="bold" font-size="9.39">VP2D+CFA</text>
<rect x="236.07" y="735.07" width="12.11" height="4.51" fill="#A0A0A8" stroke="#000" stroke-width="1.17"/>
<text x="256.7" y="740.42" font-family="'Liberation Serif', serif" font-weight="bold" font-size="9.39">VP2D+IFA</text>
<rect x="236.07" y="750.65" width="12.11" height="4.51" fill="#B838E2" stroke="#000" stroke-width="1.17"/>
<text x="256.7" y="756" font-family="'Liberation Serif', serif" font-weight="bold" font-size="9.39">PBS</text>
</g>
<g>
<path d="M396.57 751.42V751.01M394.64 751.01H398.51" stroke="#000" stroke-width="0.99" fill="none"/>
<rect x="392.94" y="751.96" width="7.26" height="0.94" fill="#FF4040"/>
<path d="M392.94 752.9V751.96H400.21V752.9" stroke="#000" stroke-width="1.09" fill="none"/>
<path d="M404.93 751.05V750.44M402.99 750.44H406.86" stroke="#000" stroke-width="0.99" fill="none"/>
<rect x="401.29" y="751.59" width="7.26" height="1.31" fill="#00F020"/>
<path d="M401.29 752.9V751.59H408.56V752.9" stroke="#000" stroke-width="1.09" fill="none"/>
<path d="M413.27 751.98V751.77M411.34 751.77H415.21" stroke="#000" stroke-width="0.99" fill="none"/>
<rect x="409.64" y="752.52" width="7.26" height="0.38" fill="#FFD0A0"/>
<path d="M409.64 752.9V752.52H416.91V752.9" stroke="#000" stroke-width="1.09" fill="none"/>
<path d="M421.62 735.29V734.78M419.69 734.78H423.56" stroke="#000" stroke-width="0.99" fill="none"/>
<rect x="417.99" y="735.83" width="7.26" height="17.07" fill="#F0C8F8"/>
<path d="M417.99 752.9V735.83H425.26V752.9" stroke="#000" stroke-width="1.09" fill="none"/>
<text x="421.62" y="735.4" font-family="'Liberation Sans', sans-serif" font-size="9.21" font-weight="bold" text-anchor="middle" fill="#000" letter-spacing="0.69" dx="0.35">**</text>
<text x="421.62" y="726.66" font-family="'Liberation Sans', sans-serif" font-size="6.93" font-weight="bold" text-anchor="middle" fill="#000">##</text>
<text x="421.62" y="722.07" font-family="'Liberation Sans', sans-serif" font-size="6.93" text-anchor="middle" fill="#000" stroke="#000" stroke-width="0.1">^^</text>
<path d="M429.97 750.12V749.62M428.04 749.62H431.91" stroke="#000" stroke-width="0.99" fill="none"/>
<rect x="426.34" y="750.67" width="7.26" height="2.23" fill="#A0A0A8"/>
<path d="M426.34 752.9V750.67H433.61V752.9" stroke="#000" stroke-width="1.09" fill="none"/>
<text x="429.97" y="749.8" font-family="'Liberation Sans', sans-serif" font-size="9.21" font-weight="bold" text-anchor="middle" fill="#000">*</text>
<text x="429.97" y="742.16" font-family="'Liberation Sans', sans-serif" font-size="6.93" font-weight="bold" text-anchor="middle" fill="#000">##</text>
<text x="429.97" y="737.37" font-family="'Liberation Sans', sans-serif" font-size="6.93" text-anchor="middle" fill="#000" stroke="#000" stroke-width="0.1">^^</text>
<path d="M438.32 751.79V751.58M436.39 751.58H440.26" stroke="#000" stroke-width="0.99" fill="none"/>
<rect x="434.69" y="752.33" width="7.26" height="0.57" fill="#B838E2"/>
<path d="M434.69 752.9V752.33H441.96V752.9" stroke="#000" stroke-width="1.09" fill="none"/>
<path d="M455.28 632.92V632.42M453.34 632.42H457.21" stroke="#000" stroke-width="0.99" fill="none"/>
<rect x="451.64" y="715.9" width="7.26" height="37" fill="#FF4040"/>
<path d="M451.64 715.9V752.9M458.91 715.9V752.9" stroke="#000" stroke-width="1.09"/>
<rect x="451.64" y="669.3" width="7.26" height="36.5" fill="#FF4040"/>
<path d="M451.64 669.3V705.8M458.91 669.3V705.8" stroke="#000" stroke-width="1.09"/>
<rect x="451.64" y="633.47" width="7.26" height="26.03" fill="#FF4040"/>
<path d="M451.64 659.5V633.47H458.91V659.5" stroke="#000" stroke-width="1.09" fill="none"/>
<path d="M463.63 637.4V636.49M461.69 636.49H465.56" stroke="#000" stroke-width="0.99" fill="none"/>
<rect x="459.99" y="715.9" width="7.26" height="37" fill="#00F020"/>
<path d="M459.99 715.9V752.9M467.26 715.9V752.9" stroke="#000" stroke-width="1.09"/>
<rect x="459.99" y="669.3" width="7.26" height="36.5" fill="#00F020"/>
<path d="M459.99 669.3V705.8M467.26 669.3V705.8" stroke="#000" stroke-width="1.09"/>
<rect x="459.99" y="637.94" width="7.26" height="21.56" fill="#00F020"/>
<path d="M459.99 659.5V637.94H467.26V659.5" stroke="#000" stroke-width="1.09" fill="none"/>
<text x="463.63" y="637.1" font-family="'Liberation Sans', sans-serif" font-size="9.21" font-weight="bold" text-anchor="middle" fill="#000">*</text>
<text x="463.63" y="631.57" font-family="'Liberation Sans', sans-serif" font-size="6.93" text-anchor="middle" fill="#000" stroke="#000" stroke-width="0.1">^^</text>
<path d="M471.98 641.69V640.18M470.04 640.18H473.91" stroke="#000" stroke-width="0.99" fill="none"/>
<rect x="468.34" y="715.9" width="7.26" height="37" fill="#FFD0A0"/>
<path d="M468.34 715.9V752.9M475.61 715.9V752.9" stroke="#000" stroke-width="1.09"/>
<rect x="468.34" y="669.3" width="7.26" height="36.5" fill="#FFD0A0"/>
<path d="M468.34 669.3V705.8M475.61 669.3V705.8" stroke="#000" stroke-width="1.09"/>
<rect x="468.34" y="642.23" width="7.26" height="17.27" fill="#FFD0A0"/>
<path d="M468.34 659.5V642.23H475.61V659.5" stroke="#000" stroke-width="1.09" fill="none"/>
<text x="471.98" y="641.2" font-family="'Liberation Sans', sans-serif" font-size="9.21" font-weight="bold" text-anchor="middle" fill="#000">*</text>
<path d="M480.33 627.98V626.88M478.39 626.88H482.26" stroke="#000" stroke-width="0.99" fill="none"/>
<rect x="476.69" y="715.9" width="7.26" height="37" fill="#F0C8F8"/>
<path d="M476.69 715.9V752.9M483.96 715.9V752.9" stroke="#000" stroke-width="1.09"/>
<rect x="476.69" y="669.3" width="7.26" height="36.5" fill="#F0C8F8"/>
<path d="M476.69 669.3V705.8M483.96 669.3V705.8" stroke="#000" stroke-width="1.09"/>
<rect x="476.69" y="628.53" width="7.26" height="30.97" fill="#F0C8F8"/>
<path d="M476.69 659.5V628.53H483.96V659.5" stroke="#000" stroke-width="1.09" fill="none"/>
<text x="480.33" y="627.6" font-family="'Liberation Sans', sans-serif" font-size="9.21" font-weight="bold" text-anchor="middle" fill="#000">*</text>
<text x="480.33" y="620.26" font-family="'Liberation Sans', sans-serif" font-size="6.93" font-weight="bold" text-anchor="middle" fill="#000">##</text>
<text x="480.33" y="616.07" font-family="'Liberation Sans', sans-serif" font-size="6.93" text-anchor="middle" fill="#000" stroke="#000" stroke-width="0.1">^^</text>
<path d="M488.68 630.97V629.46M486.74 629.46H490.61" stroke="#000" stroke-width="0.99" fill="none"/>
<rect x="485.04" y="715.9" width="7.26" height="37" fill="#A0A0A8"/>
<path d="M485.04 715.9V752.9M492.31 715.9V752.9" stroke="#000" stroke-width="1.09"/>
<rect x="485.04" y="669.3" width="7.26" height="36.5" fill="#A0A0A8"/>
<path d="M485.04 669.3V705.8M492.31 669.3V705.8" stroke="#000" stroke-width="1.09"/>
<rect x="485.04" y="631.51" width="7.26" height="27.99" fill="#A0A0A8"/>
<path d="M485.04 659.5V631.51H492.31V659.5" stroke="#000" stroke-width="1.09" fill="none"/>
<text x="488.68" y="627.16" font-family="'Liberation Sans', sans-serif" font-size="6.93" font-weight="bold" text-anchor="middle" fill="#000">#</text>
<text x="488.68" y="623.17" font-family="'Liberation Sans', sans-serif" font-size="6.93" text-anchor="middle" fill="#000" stroke="#000" stroke-width="0.1">^^</text>
<path d="M497.03 752.16V752.05M495.09 752.05H498.96" stroke="#000" stroke-width="0.99" fill="none"/>
<rect x="493.39" y="752.7" width="7.26" height="0.2" fill="#B838E2"/>
<path d="M493.39 752.9V752.7H500.66V752.9" stroke="#000" stroke-width="1.09" fill="none"/>
<text x="497.03" y="752" font-family="'Liberation Sans', sans-serif" font-size="9.21" font-weight="bold" text-anchor="middle" fill="#000" letter-spacing="0.69" dx="0.35">**</text>
<text x="497.03" y="743.06" font-family="'Liberation Sans', sans-serif" font-size="6.93" font-weight="bold" text-anchor="middle" fill="#000">##</text>
<path d="M513.48 702.15V701.14M511.54 701.14H515.41" stroke="#000" stroke-width="0.99" fill="none"/>
<rect x="509.84" y="715.9" width="7.26" height="37" fill="#FF4040"/>
<path d="M509.84 715.9V752.9M517.11 715.9V752.9" stroke="#000" stroke-width="1.09"/>
<rect x="509.84" y="702.69" width="7.26" height="3.11" fill="#FF4040"/>
<path d="M509.84 705.8V702.69H517.11V705.8" stroke="#000" stroke-width="1.09" fill="none"/>
<path d="M521.82 701.47V700.76M519.89 700.76H523.76" stroke="#000" stroke-width="0.99" fill="none"/>
<rect x="518.19" y="715.9" width="7.26" height="37" fill="#00F020"/>
<path d="M518.19 715.9V752.9M525.46 715.9V752.9" stroke="#000" stroke-width="1.09"/>
<rect x="518.19" y="702.01" width="7.26" height="3.79" fill="#00F020"/>
<path d="M518.19 705.8V702.01H525.46V705.8" stroke="#000" stroke-width="1.09" fill="none"/>
<text x="521.82" y="700.07" font-family="'Liberation Sans', sans-serif" font-size="6.93" text-anchor="middle" fill="#000" stroke="#000" stroke-width="0.1">^^</text>
<path d="M530.17 702.97V701.77M528.24 701.77H532.11" stroke="#000" stroke-width="0.99" fill="none"/>
<rect x="526.54" y="715.9" width="7.26" height="37" fill="#FFD0A0"/>
<path d="M526.54 715.9V752.9M533.81 715.9V752.9" stroke="#000" stroke-width="1.09"/>
<rect x="526.54" y="703.52" width="7.26" height="2.28" fill="#FFD0A0"/>
<path d="M526.54 705.8V703.52H533.81V705.8" stroke="#000" stroke-width="1.09" fill="none"/>
<path d="M538.52 697.95V697.55M536.59 697.55H540.46" stroke="#000" stroke-width="0.99" fill="none"/>
<rect x="534.89" y="715.9" width="7.26" height="37" fill="#F0C8F8"/>
<path d="M534.89 715.9V752.9M542.16 715.9V752.9" stroke="#000" stroke-width="1.09"/>
<rect x="534.89" y="698.5" width="7.26" height="7.3" fill="#F0C8F8"/>
<path d="M534.89 705.8V698.5H542.16V705.8" stroke="#000" stroke-width="1.09" fill="none"/>
<text x="538.52" y="697.9" font-family="'Liberation Sans', sans-serif" font-size="9.21" font-weight="bold" text-anchor="middle" fill="#000">*</text>
<text x="538.52" y="689.66" font-family="'Liberation Sans', sans-serif" font-size="6.93" font-weight="bold" text-anchor="middle" fill="#000">#</text>
<text x="538.52" y="685.07" font-family="'Liberation Sans', sans-serif" font-size="6.93" text-anchor="middle" fill="#000" stroke="#000" stroke-width="0.1">^^</text>
<path d="M546.88 701.78V700.88M544.94 700.88H548.81" stroke="#000" stroke-width="0.99" fill="none"/>
<rect x="543.24" y="715.9" width="7.26" height="37" fill="#A0A0A8"/>
<path d="M543.24 715.9V752.9M550.51 715.9V752.9" stroke="#000" stroke-width="1.09"/>
<rect x="543.24" y="702.33" width="7.26" height="3.47" fill="#A0A0A8"/>
<path d="M543.24 705.8V702.33H550.51V705.8" stroke="#000" stroke-width="1.09" fill="none"/>
<text x="546.88" y="700.26" font-family="'Liberation Sans', sans-serif" font-size="6.93" text-anchor="middle" fill="#000" stroke="#000" stroke-width="0.1">^^</text>
<path d="M555.22 752.16V752.15M553.29 752.15H557.16" stroke="#000" stroke-width="0.99" fill="none"/>
<rect x="551.59" y="752.7" width="7.26" height="0.2" fill="#B838E2"/>
<path d="M551.59 752.9V752.7H558.86V752.9" stroke="#000" stroke-width="1.09" fill="none"/>
<text x="555.22" y="752.3" font-family="'Liberation Sans', sans-serif" font-size="9.21" font-weight="bold" text-anchor="middle" fill="#000" letter-spacing="0.69" dx="0.35">**</text>
<text x="555.22" y="744.26" font-family="'Liberation Sans', sans-serif" font-size="6.93" font-weight="bold" text-anchor="middle" fill="#000">##</text>
<path d="M388.4 715.9V752.9" stroke="#000" stroke-width="1.53"/>
<path d="M383.25 752.9H388.4" stroke="#000" stroke-width="1.58"/>
<text x="381.77" y="756.2" font-family="'Liberation Serif', serif" font-weight="bold" font-size="10" text-anchor="end">0</text>
<path d="M383.25 734.4H388.4" stroke="#000" stroke-width="1.58"/>
<text x="381.77" y="737.7" font-family="'Liberation Serif', serif" font-weight="bold" font-size="10" text-anchor="end">50</text>
<path d="M385.23 715.9H391.57" stroke="#000" stroke-width="1.58"/>
<text x="381.77" y="719.2" font-family="'Liberation Serif', serif" font-weight="bold" font-size="10" text-anchor="end">100</text>
<path d="M388.4 669.3V705.8" stroke="#000" stroke-width="1.53"/>
<path d="M385.23 705.8H391.57" stroke="#000" stroke-width="1.58"/>
<text x="381.77" y="709.1" font-family="'Liberation Serif', serif" font-weight="bold" font-size="10" text-anchor="end">200</text>
<path d="M383.25 687.55H388.4" stroke="#000" stroke-width="1.58"/>
<text x="381.77" y="690.85" font-family="'Liberation Serif', serif" font-weight="bold" font-size="10" text-anchor="end">600</text>
<path d="M385.23 669.3H391.57" stroke="#000" stroke-width="1.58"/>
<text x="381.77" y="672.6" font-family="'Liberation Serif', serif" font-weight="bold" font-size="10" text-anchor="end">1000</text>
<path d="M388.4 621.43V659.5" stroke="#000" stroke-width="1.53"/>
<path d="M385.23 659.5H391.57" stroke="#000" stroke-width="1.58"/>
<text x="381.77" y="662.8" font-family="'Liberation Serif', serif" font-weight="bold" font-size="10" text-anchor="end">1000</text>
<path d="M383.25 640.85H388.4" stroke="#000" stroke-width="1.58"/>
<text x="381.77" y="644.15" font-family="'Liberation Serif', serif" font-weight="bold" font-size="10" text-anchor="end">3000</text>
<path d="M383.25 622.2H388.4" stroke="#000" stroke-width="1.58"/>
<text x="381.77" y="625.5" font-family="'Liberation Serif', serif" font-weight="bold" font-size="10" text-anchor="end">5000</text>
<path d="M387.63 752.9H563.8" stroke="#000" stroke-width="1.53"/>
<path d="M416.95 752.9V758.64" stroke="#000" stroke-width="1.58"/>
<text x="416.95" y="768.9" font-family="'Liberation Serif', serif" font-weight="bold" font-size="9.7" text-anchor="middle">7</text>
<path d="M475.65 752.9V758.64" stroke="#000" stroke-width="1.58"/>
<text x="475.65" y="768.9" font-family="'Liberation Serif', serif" font-weight="bold" font-size="9.7" text-anchor="middle">14</text>
<path d="M533.85 752.9V758.64" stroke="#000" stroke-width="1.58"/>
<text x="533.85" y="768.9" font-family="'Liberation Serif', serif" font-weight="bold" font-size="9.7" text-anchor="middle">21</text>
<text x="475.5" y="783.4" font-family="'Liberation Serif', serif" font-weight="bold" font-size="9.9" text-anchor="middle">Time of post vaccination (day)</text>
<text transform="translate(356 687.2) rotate(-90)" font-family="'Liberation Serif', serif" font-weight="bold" font-size="9.9" text-anchor="middle">IFN-γ mRNA transcriptional level</text>
<rect x="577.1" y="664.22" width="12.77" height="4.75" fill="#FF4040" stroke="#000" stroke-width="1.24"/>
<text x="598.5" y="669.87" font-family="'Liberation Serif', serif" font-weight="bold" font-size="9.9">VP2D</text>
<rect x="577.1" y="680.66" width="12.77" height="4.75" fill="#00F020" stroke="#000" stroke-width="1.24"/>
<text x="598.5" y="686.3" font-family="'Liberation Serif', serif" font-weight="bold" font-size="9.9">VP2</text>
<rect x="577.1" y="697.09" width="12.77" height="4.75" fill="#FFD0A0" stroke="#000" stroke-width="1.24"/>
<text x="598.5" y="702.74" font-family="'Liberation Serif', serif" font-weight="bold" font-size="9.9">Commercial vaccine</text>
<rect x="577.1" y="713.53" width="12.77" height="4.75" fill="#F0C8F8" stroke="#000" stroke-width="1.24"/>
<text x="598.5" y="719.17" font-family="'Liberation Serif', serif" font-weight="bold" font-size="9.9">VP2D+CFA</text>
<rect x="577.1" y="729.96" width="12.77" height="4.75" fill="#A0A0A8" stroke="#000" stroke-width="1.24"/>
<text x="598.5" y="735.6" font-family="'Liberation Serif', serif" font-weight="bold" font-size="9.9">VP2D+IFA</text>
<rect x="577.1" y="746.39" width="12.77" height="4.75" fill="#B838E2" stroke="#000" stroke-width="1.24"/>
<text x="598.5" y="752.04" font-family="'Liberation Serif', serif" font-weight="bold" font-size="9.9">PBS</text>
</g>
<rect x="338.4" y="699" width="3" height="12" fill="#fff"/>
<text transform="translate(0.8 17.2) scale(0.906 1)" font-family="'Liberation Serif', serif" font-weight="bold" font-size="24.6">A</text>
<text transform="translate(1.2 408.7) scale(1.05 1.155)" font-family="'Liberation Serif', serif" font-weight="bold" font-size="22">B</text>
</svg></body></html>
